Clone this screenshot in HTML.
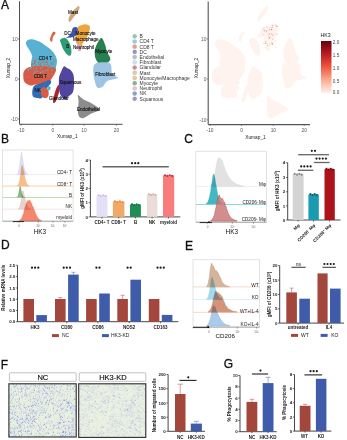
<!DOCTYPE html>
<html><head><meta charset="utf-8"><style>html,body{margin:0;padding:0;background:#fff;}svg{display:block;}</style></head>
<body>
<svg width="347" height="440" viewBox="0 0 347 440" font-family="Liberation Sans, sans-serif">
<rect x="0" y="0" width="347" height="440" fill="#ffffff" />
<text x="1.1" y="8.9" font-size="12" fill="#111" text-anchor="start" font-weight="normal" stroke="#111" stroke-width="0.3">A</text>
<path d="M26.3,41.8C26.7,40.9 27.6,40.2 28.5,39.8C29.4,39.4 30.1,39 32,39.3C33.9,39.6 37.5,40.7 39.8,41.8C42.1,42.9 44.1,44.7 46,46C47.9,47.3 49.5,48.4 51,49.8C52.5,51.2 53.8,52.8 54.8,54.5C55.8,56.2 56.6,58.3 56.9,60.2C57.1,62.1 56.7,64.3 56.3,66C55.9,67.7 56,69.6 54.6,70.6C53.2,71.6 50.4,71.9 48,72C45.6,72.1 42.7,71.5 40,71C37.3,70.5 33.5,70 32,69C30.5,68 31.1,66.3 31,64.8C30.9,63.3 31.3,61.7 31.5,60.2C31.7,58.7 32.5,57.3 32.1,55.6C31.7,53.9 30.2,51.6 29.2,49.8C28.2,48 26.8,46.3 26.3,45C25.8,43.7 25.9,42.7 26.3,41.8Z" fill="#58B1D2" />
<path d="M24,71.3C24.8,69.9 25.7,68.4 28,67.5C30.3,66.6 34.7,66.1 38,66C41.3,65.9 45.1,66.5 48,67C50.9,67.5 54.3,68 55.5,69C56.7,70 55.8,71.2 55,73C54.2,74.8 52.3,77.7 51,79.5C49.7,81.3 48.4,82.8 47,84C45.6,85.2 44.2,86.5 42.4,86.6C40.6,86.7 38,84.7 36,84.5C34,84.3 32.4,85.9 30.5,85.5C28.6,85.1 25.7,83.6 24.5,82C23.3,80.4 23.4,77.8 23.3,76C23.2,74.2 23.2,72.7 24,71.3Z" fill="#D85C45" />
<path d="M49.8,80C51,80.2 51.5,81.7 51,83C50.5,84.3 48.2,86.3 47,88C45.8,89.7 44.8,91.3 44,93C43.2,94.7 43.2,97.2 42,98C40.8,98.8 38.5,98.2 37,98C35.5,97.8 33.8,97.7 33,96.5C32.2,95.3 32.1,92.8 32.3,91C32.5,89.2 32.9,87.2 34,86C35.1,84.8 37.3,84.7 39,84C40.7,83.3 42.2,82.7 44,82C45.8,81.3 48.6,79.8 49.8,80Z" fill="#2F6DB4" />
<path d="M41,88.5C41.8,87.4 44.2,87.1 45.5,87.5C46.8,87.9 48.1,89.5 48.5,91C48.9,92.5 48.8,95.3 48,96.5C47.2,97.7 45.2,98.4 44,98C42.8,97.6 41.5,95.6 41,94C40.5,92.4 40.2,89.6 41,88.5Z" fill="#D85C45" />
<path d="M48,86.5C48.5,86 50.2,86.4 50.5,87C50.8,87.6 50.5,89.5 50,90C49.5,90.5 47.8,90.6 47.5,90C47.2,89.4 47.5,87 48,86.5Z" fill="#5BB5D6" />
<path d="M58.5,85C59.1,84.9 60,86 60,87.5C60,89 59.2,91.8 58.5,94C57.8,96.2 56.8,99.5 56,101C55.2,102.5 54.5,103 54,103C53.5,103 52.9,102.5 53,101C53.1,99.5 53.9,96.2 54.5,94C55.1,91.8 55.8,89.5 56.5,88C57.2,86.5 57.9,85.1 58.5,85Z" fill="#B0232A" />
<path d="M63.8,66.5C64.8,65.8 65.9,67.4 67,68C68.1,68.6 69.4,68.8 70.5,70C71.6,71.2 72.9,72.7 73.5,75C74.1,77.3 74.1,81.2 74,84C73.9,86.8 73.8,90 73,92C72.2,94 70.5,94.8 69,96C67.5,97.2 65.4,99.2 64,99C62.6,98.8 61.3,96.8 60.5,95C59.7,93.2 59.2,90.8 59,88C58.8,85.2 58.7,80.7 59,78C59.3,75.3 60.2,73.9 61,72C61.8,70.1 62.8,67.2 63.8,66.5Z" fill="#5046A0" />
<path d="M77.9,95C78.7,94.8 81.2,98 83.6,99.4C86,100.9 89.6,102 92.3,103.7C95,105.4 99.8,107.8 99.5,109.5C99.2,111.2 93.5,112.4 90.8,113.8C88.1,115.2 85.5,117.5 83.6,118C81.7,118.5 80.2,117.9 79.3,116.7C78.3,115.5 78,113.7 77.9,111C77.8,108.3 78.6,103.5 78.6,100.8C78.6,98.1 77.1,95.2 77.9,95Z" fill="#8C8C8C" />
<path d="M101.7,38C102.9,38.6 104.3,42.7 105.2,45C106.1,47.3 106,49.6 106.9,51.9C107.8,54.2 110.4,56.9 110.4,58.8C110.4,60.7 108.6,62.2 106.9,63.1C105.2,64 101.9,64.7 100,64C98.1,63.3 96.6,61.1 95.7,58.8C94.8,56.5 94.4,53.1 94.8,50.2C95.2,47.3 97.1,43.5 98.3,41.5C99.5,39.5 100.5,37.4 101.7,38Z" fill="#287F50" />
<path d="M96,63.2C98.3,62.1 104.3,62 106.8,62.3C109.3,62.6 110.1,63 111,65C111.9,67 111.2,72.5 112.3,74.6C113.4,76.6 117,76.6 117.7,77.3C118.4,78 118.2,77.9 116.4,78.6C114.6,79.3 109.1,80 106.8,81.4C104.5,82.8 104.3,85.8 102.7,86.8C101.1,87.8 98.7,88.6 97.3,87.5C95.9,86.4 95.2,83.1 94.5,80C93.8,76.9 93,71.8 93.2,69C93.5,66.2 93.7,64.3 96,63.2Z" fill="#9DC4E4" />
<path d="M78.5,6C79.1,6 79.8,6.8 79.5,8C79.2,9.2 78.1,11.3 77,13C75.9,14.7 74.2,16.5 73,18C71.8,19.5 70.8,21.4 70,21.8C69.2,22.2 68.6,21.5 68.5,20.5C68.4,19.5 68.8,17.6 69.5,16C70.2,14.4 71.9,12.3 73,11C74.1,9.7 75.1,8.8 76,8C76.9,7.2 77.9,6 78.5,6Z" fill="#CCA977" />
<path d="M79.2,26C80.5,25.3 83.6,24.2 85.3,24.2C87,24.2 88.9,25 89.6,26C90.3,27 90,28.4 89.6,30.3C89.2,32.2 88.2,35 87,37.2C85.8,39.4 83.7,41.4 82.7,43.3C81.7,45.2 81.6,47.7 81,48.4C80.4,49.1 80.1,48.8 79.2,47.6C78.3,46.5 76.4,43.7 75.8,41.5C75.2,39.3 75.5,36.8 75.8,34.6C76.1,32.4 76.9,29.9 77.5,28.5C78.1,27.1 77.9,26.7 79.2,26Z" fill="#EEA53B" />
<path d="M73,27.8C73.9,26.9 75.7,27 76.5,27.2C77.3,27.4 77.7,27.9 77.8,29C77.9,30.1 77.8,32.2 77.3,33.5C76.8,34.8 75.7,35.8 74.5,36.5C73.3,37.2 71.4,37.4 70,37.6C68.6,37.9 66.2,38.2 66,38C65.8,37.8 67.6,37.1 68.5,36.2C69.4,35.3 70.5,33.9 71.3,32.5C72,31.1 72.1,28.7 73,27.8Z" fill="#3D54A6" />
<path d="M60.2,39.8C60.9,38.9 63.8,37.4 65.4,38C67,38.6 68.7,41.3 69.7,43.3C70.7,45.3 71.2,48.2 71.4,50.2C71.6,52.2 71.3,54.7 70.6,55.4C69.9,56.1 68.4,55.7 67.1,54.5C65.8,53.3 63.8,50.3 62.8,48.4C61.8,46.5 61.4,44.7 61,43.3C60.6,41.9 59.5,40.7 60.2,39.8Z" fill="#2E9C74" />
<path d="M77.5,43.3C78,42.8 79.9,42.9 80.5,44C81.1,45.1 81.3,48.8 81,50C80.7,51.2 79.1,51.5 78.5,51C77.9,50.5 77.7,48.3 77.5,47C77.3,45.7 77,43.8 77.5,43.3Z" fill="#E7A3C5" />
<path d="M53,32C53.8,31.5 55.6,32.2 55.6,33C55.6,33.8 53.6,35.5 53,37C52.4,38.5 52.5,41.2 52,41.7C51.5,42.2 50.2,41 50,40C49.8,39 50.5,37.3 51,36C51.5,34.7 52.2,32.5 53,32Z" fill="#D8654A" />
<clipPath id="c4"><path d="M26.3,41.8C26.7,40.9 27.6,40.2 28.5,39.8C29.4,39.4 30.1,39 32,39.3C33.9,39.6 37.5,40.7 39.8,41.8C42.1,42.9 44.1,44.7 46,46C47.9,47.3 49.5,48.4 51,49.8C52.5,51.2 53.8,52.8 54.8,54.5C55.8,56.2 56.6,58.3 56.9,60.2C57.1,62.1 56.7,64.3 56.3,66C55.9,67.7 56,69.6 54.6,70.6C53.2,71.6 50.4,71.9 48,72C45.6,72.1 42.7,71.5 40,71C37.3,70.5 33.5,70 32,69C30.5,68 31.1,66.3 31,64.8C30.9,63.3 31.3,61.7 31.5,60.2C31.7,58.7 32.5,57.3 32.1,55.6C31.7,53.9 30.2,51.6 29.2,49.8C28.2,48 26.8,46.3 26.3,45C25.8,43.7 25.9,42.7 26.3,41.8Z"/></clipPath>
<clipPath id="c8"><path d="M24,71.3C24.8,69.9 25.7,68.4 28,67.5C30.3,66.6 34.7,66.1 38,66C41.3,65.9 45.1,66.5 48,67C50.9,67.5 54.3,68 55.5,69C56.7,70 55.8,71.2 55,73C54.2,74.8 52.3,77.7 51,79.5C49.7,81.3 48.4,82.8 47,84C45.6,85.2 44.2,86.5 42.4,86.6C40.6,86.7 38,84.7 36,84.5C34,84.3 32.4,85.9 30.5,85.5C28.6,85.1 25.7,83.6 24.5,82C23.3,80.4 23.4,77.8 23.3,76C23.2,74.2 23.2,72.7 24,71.3Z"/></clipPath>
<path clip-path="url(#c4)" d="M35.9,65.7h1v1h-1zM46.5,67h1v1h-1zM29.4,70.4h1v1h-1zM35.8,72.9h1v1h-1zM44.2,68.9h1v1h-1zM30.9,69.1h1v1h-1zM49.7,71.7h1v1h-1zM35.3,72.4h1v1h-1zM45.9,71.5h1v1h-1zM55.9,70.7h1v1h-1zM57,71.5h1v1h-1zM45.6,61.6h1v1h-1zM53.8,72.8h1v1h-1zM52.2,63.6h1v1h-1zM37.5,69.3h1v1h-1zM30.3,66.8h1v1h-1zM46.7,59.5h1v1h-1zM44.1,67.3h1v1h-1zM44.1,65.8h1v1h-1zM41,66.3h1v1h-1zM46.9,67.1h1v1h-1zM39.2,68.3h1v1h-1zM46.2,62.1h1v1h-1zM38.7,70.3h1v1h-1zM47.9,71.2h1v1h-1zM34.5,69.9h1v1h-1zM47.6,69.9h1v1h-1zM54.5,72.8h1v1h-1zM56.6,71.8h1v1h-1zM50.6,70.4h1v1h-1zM44.1,61.6h1v1h-1zM37.3,70h1v1h-1zM55,71.4h1v1h-1zM29.4,68.9h1v1h-1zM37.7,67.6h1v1h-1zM41,72h1v1h-1zM42.8,69.5h1v1h-1zM34,69.7h1v1h-1zM52.4,70.2h1v1h-1zM47.2,70.8h1v1h-1zM38.2,62h1v1h-1zM47.8,66.4h1v1h-1zM34.5,62.3h1v1h-1zM45.1,68.5h1v1h-1zM46.5,69.5h1v1h-1zM52.2,67h1v1h-1zM41.2,68.1h1v1h-1zM31.1,63.8h1v1h-1zM54.5,72h1v1h-1zM55,69.7h1v1h-1zM48.2,71.2h1v1h-1zM48.4,68.7h1v1h-1zM32,66.4h1v1h-1zM33.2,69.4h1v1h-1zM32.5,70.5h1v1h-1zM53.2,72.2h1v1h-1zM43.8,68.4h1v1h-1zM50.7,72h1v1h-1zM46.9,69.1h1v1h-1zM39.7,63.3h1v1h-1zM33.7,68.1h1v1h-1zM48.5,65.3h1v1h-1zM47.6,71.4h1v1h-1zM34.4,61.3h1v1h-1zM46,62h1v1h-1zM49,72.3h1v1h-1zM46,61.3h1v1h-1zM29.7,64.7h1v1h-1zM34,62.8h1v1h-1zM42.9,66.6h1v1h-1zM53.2,70.1h1v1h-1zM43,68.5h1v1h-1zM42.6,60.7h1v1h-1zM53.8,60.9h1v1h-1zM53.9,71.4h1v1h-1zM50.1,58.4h1v1h-1zM45.8,67.8h1v1h-1zM38.7,64h1v1h-1zM40.3,65.7h1v1h-1zM37,67.6h1v1h-1zM54.7,71.5h1v1h-1zM48,69.9h1v1h-1zM50.9,72.4h1v1h-1zM39.2,68.5h1v1h-1zM46.3,65.9h1v1h-1zM42.3,62h1v1h-1zM31,68.5h1v1h-1zM44.8,68.8h1v1h-1zM30.2,65.1h1v1h-1zM51.3,62.7h1v1h-1zM39.2,70.6h1v1h-1zM36.8,58.6h1v1h-1zM51.6,68.6h1v1h-1zM52.7,69h1v1h-1zM33.2,63.4h1v1h-1zM44.3,66.1h1v1h-1zM36.3,69.5h1v1h-1zM52.3,71.3h1v1h-1zM40.1,65.8h1v1h-1zM47.4,72.6h1v1h-1zM37.7,70.8h1v1h-1zM46.4,68.6h1v1h-1zM51.3,67.6h1v1h-1zM44.2,64.4h1v1h-1zM56.8,71.3h1v1h-1zM52,67h1v1h-1zM39.4,60.7h1v1h-1zM44.6,71.9h1v1h-1zM54.2,68.1h1v1h-1zM49.8,68.8h1v1h-1zM52.4,71.9h1v1h-1zM41.7,69.1h1v1h-1zM49.3,65.6h1v1h-1zM51,63.4h1v1h-1zM55.1,68.5h1v1h-1zM39.8,65.5h1v1h-1zM34.7,60.3h1v1h-1zM40.7,59.7h1v1h-1zM40.8,68.3h1v1h-1zM40.7,63.3h1v1h-1zM57,60.5h1v1h-1zM39,59h1v1h-1zM42.5,71.9h1v1h-1zM47.2,62.5h1v1h-1zM48.8,72.5h1v1h-1zM48,71.4h1v1h-1zM55.6,72h1v1h-1zM32.3,63.2h1v1h-1zM48.7,71.9h1v1h-1zM50.5,68.7h1v1h-1zM45,71.8h1v1h-1zM42.9,61.3h1v1h-1zM49.9,66.7h1v1h-1zM40.2,64.8h1v1h-1zM51,67.8h1v1h-1zM35.9,70.5h1v1h-1zM54.5,71h1v1h-1zM55,68.7h1v1h-1zM47.7,66.4h1v1h-1zM35.7,72.5h1v1h-1zM46.5,69.6h1v1h-1zM34.5,59.8h1v1h-1zM52.9,58.8h1v1h-1zM31.5,64.4h1v1h-1zM53.1,66.8h1v1h-1zM51.1,70.9h1v1h-1zM46.5,64.1h1v1h-1zM35,65.6h1v1h-1zM31.4,60.5h1v1h-1zM55.2,72.2h1v1h-1z" fill="#D0603F"/>
<path clip-path="url(#c8)" d="M30.8,67.3h1v1h-1zM45.4,70h1v1h-1zM33.8,71.8h1v1h-1zM35.7,68.3h1v1h-1zM26.3,67.8h1v1h-1zM39.9,68.3h1v1h-1zM26.9,68.6h1v1h-1zM37.2,70.7h1v1h-1zM40.2,67.3h1v1h-1zM32.8,66.6h1v1h-1zM47,69.5h1v1h-1zM47.6,73.7h1v1h-1zM30.4,66.2h1v1h-1zM41.7,71.8h1v1h-1zM30.4,68.6h1v1h-1zM51.8,73.7h1v1h-1zM34.2,73.3h1v1h-1zM41.9,66.4h1v1h-1zM40.3,72.8h1v1h-1zM43.4,71.2h1v1h-1zM34.3,71.5h1v1h-1zM28.1,69.2h1v1h-1zM27.8,69.7h1v1h-1zM33,73.6h1v1h-1zM43.5,75.1h1v1h-1zM27.4,76.6h1v1h-1zM35.9,67.5h1v1h-1zM51.7,69.9h1v1h-1zM29.8,67.8h1v1h-1zM49.8,67.1h1v1h-1zM40,72.2h1v1h-1zM47.7,68.8h1v1h-1zM32.9,68.8h1v1h-1zM29,66.2h1v1h-1zM39.7,76.7h1v1h-1zM40,72.2h1v1h-1zM41.6,70.5h1v1h-1zM35.7,70.5h1v1h-1zM51.4,69.8h1v1h-1zM37.5,74.6h1v1h-1z" fill="#5BB5D6"/>
<line x1="19.5" y1="1.2" x2="19.5" y2="124.3" stroke="#3a3a3a" stroke-width="0.9"/>
<line x1="19.5" y1="124.3" x2="122.6" y2="124.3" stroke="#3a3a3a" stroke-width="0.9"/>
<line x1="18" y1="39" x2="19.5" y2="39" stroke="#3a3a3a" stroke-width="0.6"/>
<text x="17.6" y="40.7" font-size="4.8" fill="#555" text-anchor="end" font-weight="normal" >10</text>
<line x1="18" y1="79" x2="19.5" y2="79" stroke="#3a3a3a" stroke-width="0.6"/>
<text x="17.6" y="80.7" font-size="4.8" fill="#555" text-anchor="end" font-weight="normal" >0</text>
<line x1="18" y1="119" x2="19.5" y2="119" stroke="#3a3a3a" stroke-width="0.6"/>
<text x="17.6" y="120.7" font-size="4.8" fill="#555" text-anchor="end" font-weight="normal" >-10</text>
<line x1="21" y1="124.3" x2="21" y2="125.8" stroke="#3a3a3a" stroke-width="0.6"/>
<text x="21" y="131.7" font-size="4.8" fill="#555" text-anchor="middle" font-weight="normal" >-10</text>
<line x1="52.8" y1="124.3" x2="52.8" y2="125.8" stroke="#3a3a3a" stroke-width="0.6"/>
<text x="52.8" y="131.7" font-size="4.8" fill="#555" text-anchor="middle" font-weight="normal" >0</text>
<line x1="84" y1="124.3" x2="84" y2="125.8" stroke="#3a3a3a" stroke-width="0.6"/>
<text x="84" y="131.7" font-size="4.8" fill="#555" text-anchor="middle" font-weight="normal" >10</text>
<line x1="116.4" y1="124.3" x2="116.4" y2="125.8" stroke="#3a3a3a" stroke-width="0.6"/>
<text x="116.4" y="131.7" font-size="4.8" fill="#555" text-anchor="middle" font-weight="normal" >20</text>
<text x="67.3" y="138.2" font-size="4.8" fill="#222" text-anchor="middle" font-weight="normal" >Xumap_1</text>
<text transform="translate(8,68) rotate(-90)" x="0" y="1.7" font-size="4.8" fill="#222" text-anchor="middle" font-weight="normal">Xumap_2</text>
<text x="73" y="14.4" font-size="4.6" fill="#111" text-anchor="middle" font-weight="normal" stroke="#111" stroke-width="0.12">Mast</text>
<text x="64.2" y="34.5" font-size="4.6" fill="#111" text-anchor="start" font-weight="normal" stroke="#111" stroke-width="0.12">DC</text>
<text x="75.6" y="35.2" font-size="4.6" fill="#111" text-anchor="start" font-weight="normal" stroke="#111" stroke-width="0.12">Monocyte</text>
<text x="73" y="40.5" font-size="4.6" fill="#111" text-anchor="start" font-weight="normal" stroke="#111" stroke-width="0.12">Macrophage</text>
<text x="66.3" y="48.3" font-size="4.6" fill="#111" text-anchor="start" font-weight="normal" stroke="#111" stroke-width="0.12">B</text>
<text x="73" y="48.5" font-size="4.6" fill="#111" text-anchor="start" font-weight="normal" stroke="#111" stroke-width="0.12">Neutrophil</text>
<text x="95.2" y="53.1" font-size="4.6" fill="#111" text-anchor="start" font-weight="normal" stroke="#111" stroke-width="0.12">Myocyte</text>
<text x="38.8" y="59.7" font-size="4.6" fill="#111" text-anchor="start" font-weight="normal" stroke="#111" stroke-width="0.12">CD4 T</text>
<text x="33.7" y="77.7" font-size="4.6" fill="#111" text-anchor="start" font-weight="normal" stroke="#111" stroke-width="0.12">CD8 T</text>
<text x="95.2" y="76.3" font-size="4.6" fill="#111" text-anchor="start" font-weight="normal" stroke="#111" stroke-width="0.12">Fibroblast</text>
<text x="34.5" y="91.9" font-size="4.6" fill="#111" text-anchor="start" font-weight="normal" stroke="#111" stroke-width="0.12">NK</text>
<text x="59.4" y="84" font-size="4.6" fill="#111" text-anchor="start" font-weight="normal" stroke="#111" stroke-width="0.12">Squamous</text>
<text x="48.9" y="99.7" font-size="4.6" fill="#111" text-anchor="start" font-weight="normal" stroke="#111" stroke-width="0.12">Glandular</text>
<text x="77" y="111.2" font-size="4.6" fill="#111" text-anchor="start" font-weight="normal" stroke="#111" stroke-width="0.12">Endothelial</text>
<circle cx="134.7" cy="36.3" r="2.1" fill="#8FCBAF" stroke="#888" stroke-width="0.35" stroke-opacity="0.5"/>
<text x="139.6" y="38.1" font-size="4.95" fill="#333" text-anchor="start" font-weight="normal" >B</text>
<circle cx="134.7" cy="41.5" r="2.1" fill="#92CFE6" stroke="#888" stroke-width="0.35" stroke-opacity="0.5"/>
<text x="139.6" y="43.3" font-size="4.95" fill="#333" text-anchor="start" font-weight="normal" >CD4 T</text>
<circle cx="134.7" cy="46.7" r="2.1" fill="#EB9C8B" stroke="#888" stroke-width="0.35" stroke-opacity="0.5"/>
<text x="139.6" y="48.5" font-size="4.95" fill="#333" text-anchor="start" font-weight="normal" >CD8 T</text>
<circle cx="134.7" cy="51.9" r="2.1" fill="#8F95C9" stroke="#888" stroke-width="0.35" stroke-opacity="0.5"/>
<text x="139.6" y="53.7" font-size="4.95" fill="#333" text-anchor="start" font-weight="normal" >DC</text>
<circle cx="134.7" cy="57.1" r="2.1" fill="#BDBDBD" stroke="#888" stroke-width="0.35" stroke-opacity="0.5"/>
<text x="139.6" y="58.9" font-size="4.95" fill="#333" text-anchor="start" font-weight="normal" >Endothelial</text>
<circle cx="134.7" cy="62.3" r="2.1" fill="#CFE2F3" stroke="#888" stroke-width="0.35" stroke-opacity="0.5"/>
<text x="139.6" y="64.1" font-size="4.95" fill="#333" text-anchor="start" font-weight="normal" >Fibroblast</text>
<circle cx="134.7" cy="67.6" r="2.1" fill="#D48A8F" stroke="#888" stroke-width="0.35" stroke-opacity="0.5"/>
<text x="139.6" y="69.3" font-size="4.95" fill="#333" text-anchor="start" font-weight="normal" >Glandular</text>
<circle cx="134.7" cy="72.8" r="2.1" fill="#DCCDAE" stroke="#888" stroke-width="0.35" stroke-opacity="0.5"/>
<text x="139.6" y="74.6" font-size="4.95" fill="#333" text-anchor="start" font-weight="normal" >Mast</text>
<circle cx="134.7" cy="78" r="2.1" fill="#F3C78E" stroke="#888" stroke-width="0.35" stroke-opacity="0.5"/>
<text x="139.6" y="79.8" font-size="4.95" fill="#333" text-anchor="start" font-weight="normal" >Monocyte/Macrophage</text>
<circle cx="134.7" cy="83.2" r="2.1" fill="#82B898" stroke="#888" stroke-width="0.35" stroke-opacity="0.5"/>
<text x="139.6" y="85" font-size="4.95" fill="#333" text-anchor="start" font-weight="normal" >Myocyte</text>
<circle cx="134.7" cy="88.4" r="2.1" fill="#F0C2D8" stroke="#888" stroke-width="0.35" stroke-opacity="0.5"/>
<text x="139.6" y="90.2" font-size="4.95" fill="#333" text-anchor="start" font-weight="normal" >Neutrophil</text>
<circle cx="134.7" cy="93.6" r="2.1" fill="#80A3D2" stroke="#888" stroke-width="0.35" stroke-opacity="0.5"/>
<text x="139.6" y="95.4" font-size="4.95" fill="#333" text-anchor="start" font-weight="normal" >NK</text>
<circle cx="134.7" cy="98.8" r="2.1" fill="#9D97CA" stroke="#888" stroke-width="0.35" stroke-opacity="0.5"/>
<text x="139.6" y="100.6" font-size="4.95" fill="#333" text-anchor="start" font-weight="normal" >Squamous</text>
<g transform="translate(188.7,0)">
<path d="M26.3,41.8C26.7,40.9 27.6,40.2 28.5,39.8C29.4,39.4 30.1,39 32,39.3C33.9,39.6 37.5,40.7 39.8,41.8C42.1,42.9 44.1,44.7 46,46C47.9,47.3 49.5,48.4 51,49.8C52.5,51.2 53.8,52.8 54.8,54.5C55.8,56.2 56.6,58.3 56.9,60.2C57.1,62.1 56.7,64.3 56.3,66C55.9,67.7 56,69.6 54.6,70.6C53.2,71.6 50.4,71.9 48,72C45.6,72.1 42.7,71.5 40,71C37.3,70.5 33.5,70 32,69C30.5,68 31.1,66.3 31,64.8C30.9,63.3 31.3,61.7 31.5,60.2C31.7,58.7 32.5,57.3 32.1,55.6C31.7,53.9 30.2,51.6 29.2,49.8C28.2,48 26.8,46.3 26.3,45C25.8,43.7 25.9,42.7 26.3,41.8Z" fill="#FEF3EE" />
<path d="M24,71.3C24.8,69.9 25.7,68.4 28,67.5C30.3,66.6 34.7,66.1 38,66C41.3,65.9 45.1,66.5 48,67C50.9,67.5 54.3,68 55.5,69C56.7,70 55.8,71.2 55,73C54.2,74.8 52.3,77.7 51,79.5C49.7,81.3 48.4,82.8 47,84C45.6,85.2 44.2,86.5 42.4,86.6C40.6,86.7 38,84.7 36,84.5C34,84.3 32.4,85.9 30.5,85.5C28.6,85.1 25.7,83.6 24.5,82C23.3,80.4 23.4,77.8 23.3,76C23.2,74.2 23.2,72.7 24,71.3Z" fill="#FEF3EE" />
<path d="M49.8,80C51,80.2 51.5,81.7 51,83C50.5,84.3 48.2,86.3 47,88C45.8,89.7 44.8,91.3 44,93C43.2,94.7 43.2,97.2 42,98C40.8,98.8 38.5,98.2 37,98C35.5,97.8 33.8,97.7 33,96.5C32.2,95.3 32.1,92.8 32.3,91C32.5,89.2 32.9,87.2 34,86C35.1,84.8 37.3,84.7 39,84C40.7,83.3 42.2,82.7 44,82C45.8,81.3 48.6,79.8 49.8,80Z" fill="#FEF3EE" />
<path d="M41,88.5C41.8,87.4 44.2,87.1 45.5,87.5C46.8,87.9 48.1,89.5 48.5,91C48.9,92.5 48.8,95.3 48,96.5C47.2,97.7 45.2,98.4 44,98C42.8,97.6 41.5,95.6 41,94C40.5,92.4 40.2,89.6 41,88.5Z" fill="#FEF3EE" />
<path d="M48,86.5C48.5,86 50.2,86.4 50.5,87C50.8,87.6 50.5,89.5 50,90C49.5,90.5 47.8,90.6 47.5,90C47.2,89.4 47.5,87 48,86.5Z" fill="#FEF3EE" />
<path d="M58.5,85C59.1,84.9 60,86 60,87.5C60,89 59.2,91.8 58.5,94C57.8,96.2 56.8,99.5 56,101C55.2,102.5 54.5,103 54,103C53.5,103 52.9,102.5 53,101C53.1,99.5 53.9,96.2 54.5,94C55.1,91.8 55.8,89.5 56.5,88C57.2,86.5 57.9,85.1 58.5,85Z" fill="#FEF3EE" />
<path d="M63.8,66.5C64.8,65.8 65.9,67.4 67,68C68.1,68.6 69.4,68.8 70.5,70C71.6,71.2 72.9,72.7 73.5,75C74.1,77.3 74.1,81.2 74,84C73.9,86.8 73.8,90 73,92C72.2,94 70.5,94.8 69,96C67.5,97.2 65.4,99.2 64,99C62.6,98.8 61.3,96.8 60.5,95C59.7,93.2 59.2,90.8 59,88C58.8,85.2 58.7,80.7 59,78C59.3,75.3 60.2,73.9 61,72C61.8,70.1 62.8,67.2 63.8,66.5Z" fill="#FEF3EE" />
<path d="M77.9,95C78.7,94.8 81.2,98 83.6,99.4C86,100.9 89.6,102 92.3,103.7C95,105.4 99.8,107.8 99.5,109.5C99.2,111.2 93.5,112.4 90.8,113.8C88.1,115.2 85.5,117.5 83.6,118C81.7,118.5 80.2,117.9 79.3,116.7C78.3,115.5 78,113.7 77.9,111C77.8,108.3 78.6,103.5 78.6,100.8C78.6,98.1 77.1,95.2 77.9,95Z" fill="#FEF3EE" />
<path d="M101.7,38C102.9,38.6 104.3,42.7 105.2,45C106.1,47.3 106,49.6 106.9,51.9C107.8,54.2 110.4,56.9 110.4,58.8C110.4,60.7 108.6,62.2 106.9,63.1C105.2,64 101.9,64.7 100,64C98.1,63.3 96.6,61.1 95.7,58.8C94.8,56.5 94.4,53.1 94.8,50.2C95.2,47.3 97.1,43.5 98.3,41.5C99.5,39.5 100.5,37.4 101.7,38Z" fill="#FEF3EE" />
<path d="M96,63.2C98.3,62.1 104.3,62 106.8,62.3C109.3,62.6 110.1,63 111,65C111.9,67 111.2,72.5 112.3,74.6C113.4,76.6 117,76.6 117.7,77.3C118.4,78 118.2,77.9 116.4,78.6C114.6,79.3 109.1,80 106.8,81.4C104.5,82.8 104.3,85.8 102.7,86.8C101.1,87.8 98.7,88.6 97.3,87.5C95.9,86.4 95.2,83.1 94.5,80C93.8,76.9 93,71.8 93.2,69C93.5,66.2 93.7,64.3 96,63.2Z" fill="#FEF3EE" />
<path d="M78.5,6C79.1,6 79.8,6.8 79.5,8C79.2,9.2 78.1,11.3 77,13C75.9,14.7 74.2,16.5 73,18C71.8,19.5 70.8,21.4 70,21.8C69.2,22.2 68.6,21.5 68.5,20.5C68.4,19.5 68.8,17.6 69.5,16C70.2,14.4 71.9,12.3 73,11C74.1,9.7 75.1,8.8 76,8C76.9,7.2 77.9,6 78.5,6Z" fill="#FEF3EE" />
<path d="M79.2,26C80.5,25.3 83.6,24.2 85.3,24.2C87,24.2 88.9,25 89.6,26C90.3,27 90,28.4 89.6,30.3C89.2,32.2 88.2,35 87,37.2C85.8,39.4 83.7,41.4 82.7,43.3C81.7,45.2 81.6,47.7 81,48.4C80.4,49.1 80.1,48.8 79.2,47.6C78.3,46.5 76.4,43.7 75.8,41.5C75.2,39.3 75.5,36.8 75.8,34.6C76.1,32.4 76.9,29.9 77.5,28.5C78.1,27.1 77.9,26.7 79.2,26Z" fill="#FEF3EE" />
<path d="M73,27.8C73.9,26.9 75.7,27 76.5,27.2C77.3,27.4 77.7,27.9 77.8,29C77.9,30.1 77.8,32.2 77.3,33.5C76.8,34.8 75.7,35.8 74.5,36.5C73.3,37.2 71.4,37.4 70,37.6C68.6,37.9 66.2,38.2 66,38C65.8,37.8 67.6,37.1 68.5,36.2C69.4,35.3 70.5,33.9 71.3,32.5C72,31.1 72.1,28.7 73,27.8Z" fill="#FEF3EE" />
<path d="M60.2,39.8C60.9,38.9 63.8,37.4 65.4,38C67,38.6 68.7,41.3 69.7,43.3C70.7,45.3 71.2,48.2 71.4,50.2C71.6,52.2 71.3,54.7 70.6,55.4C69.9,56.1 68.4,55.7 67.1,54.5C65.8,53.3 63.8,50.3 62.8,48.4C61.8,46.5 61.4,44.7 61,43.3C60.6,41.9 59.5,40.7 60.2,39.8Z" fill="#FEF3EE" />
<path d="M77.5,43.3C78,42.8 79.9,42.9 80.5,44C81.1,45.1 81.3,48.8 81,50C80.7,51.2 79.1,51.5 78.5,51C77.9,50.5 77.7,48.3 77.5,47C77.3,45.7 77,43.8 77.5,43.3Z" fill="#FEF3EE" />
<path d="M53,32C53.8,31.5 55.6,32.2 55.6,33C55.6,33.8 53.6,35.5 53,37C52.4,38.5 52.5,41.2 52,41.7C51.5,42.2 50.2,41 50,40C49.8,39 50.5,37.3 51,36C51.5,34.7 52.2,32.5 53,32Z" fill="#FEF3EE" />
</g>
<circle cx="269.8" cy="37.9" r="0.6" fill="#B8A8B8"/>
<circle cx="270" cy="36.7" r="0.6" fill="#F8D5C5"/>
<circle cx="265.8" cy="43.5" r="0.6" fill="#EF7C5E"/>
<circle cx="272.4" cy="43.2" r="0.6" fill="#F9C9B4"/>
<circle cx="269.7" cy="28.3" r="0.6" fill="#F8D5C5"/>
<circle cx="275.1" cy="40.9" r="0.6" fill="#F9C9B4"/>
<circle cx="271.9" cy="34.1" r="0.6" fill="#EF7C5E"/>
<circle cx="272.8" cy="39.2" r="0.6" fill="#F7B59C"/>
<circle cx="272.3" cy="44.1" r="0.6" fill="#F9C9B4"/>
<circle cx="263.9" cy="29.4" r="0.6" fill="#F7B59C"/>
<circle cx="272" cy="42.9" r="0.6" fill="#F4A084"/>
<circle cx="269.6" cy="44.4" r="0.6" fill="#F8D5C5"/>
<circle cx="266.5" cy="31.8" r="0.6" fill="#F9C9B4"/>
<circle cx="272.9" cy="35.5" r="0.6" fill="#F4A084"/>
<circle cx="269.1" cy="37.7" r="0.6" fill="#B8A8B8"/>
<circle cx="264.2" cy="30.8" r="0.6" fill="#B8A8B8"/>
<circle cx="266.4" cy="31.6" r="0.6" fill="#F9C9B4"/>
<circle cx="271.4" cy="27.5" r="0.6" fill="#F9C9B4"/>
<circle cx="275.7" cy="33.9" r="0.6" fill="#F9C9B4"/>
<circle cx="275.7" cy="25" r="0.6" fill="#F7B59C"/>
<circle cx="276.9" cy="26.2" r="0.6" fill="#EF7C5E"/>
<circle cx="277.7" cy="34.1" r="0.6" fill="#F9C9B4"/>
<circle cx="271.5" cy="29.6" r="0.6" fill="#E8604A"/>
<circle cx="267" cy="27" r="0.6" fill="#F4A084"/>
<circle cx="263.2" cy="34.4" r="0.6" fill="#F9C9B4"/>
<circle cx="265" cy="41.3" r="0.6" fill="#F9C9B4"/>
<circle cx="263.9" cy="43.3" r="0.6" fill="#F7B59C"/>
<circle cx="273.2" cy="29.3" r="0.6" fill="#F8D5C5"/>
<circle cx="265.9" cy="41.8" r="0.6" fill="#F7B59C"/>
<circle cx="269.3" cy="33.8" r="0.6" fill="#EF7C5E"/>
<circle cx="269.3" cy="29.9" r="0.6" fill="#F4A084"/>
<circle cx="276" cy="47.4" r="0.6" fill="#F8D5C5"/>
<circle cx="267.6" cy="45.4" r="0.6" fill="#F7B59C"/>
<circle cx="265.8" cy="47.9" r="0.6" fill="#F8D5C5"/>
<circle cx="272.6" cy="27.3" r="0.6" fill="#F7B59C"/>
<circle cx="266.2" cy="30.9" r="0.6" fill="#B8A8B8"/>
<circle cx="272.2" cy="44.1" r="0.6" fill="#EF7C5E"/>
<circle cx="264.1" cy="27.1" r="0.6" fill="#F8D5C5"/>
<circle cx="272.5" cy="25.4" r="0.6" fill="#F4A084"/>
<circle cx="268.6" cy="35.4" r="0.6" fill="#F8D5C5"/>
<line x1="208.2" y1="1.4" x2="208.2" y2="124.6" stroke="#555" stroke-width="1.1"/>
<line x1="208.2" y1="124.6" x2="310" y2="124.6" stroke="#555" stroke-width="1.1"/>
<line x1="206.7" y1="38.9" x2="208.2" y2="38.9" stroke="#555" stroke-width="0.6"/>
<text x="206.4" y="40.6" font-size="4.8" fill="#555" text-anchor="end" font-weight="normal" >10</text>
<line x1="206.7" y1="79" x2="208.2" y2="79" stroke="#555" stroke-width="0.6"/>
<text x="206.4" y="80.7" font-size="4.8" fill="#555" text-anchor="end" font-weight="normal" >0</text>
<line x1="206.7" y1="119.8" x2="208.2" y2="119.8" stroke="#555" stroke-width="0.6"/>
<text x="206.4" y="121.5" font-size="4.8" fill="#555" text-anchor="end" font-weight="normal" >-10</text>
<line x1="210" y1="124.6" x2="210" y2="126" stroke="#555" stroke-width="0.6"/>
<text x="210" y="132.2" font-size="4.8" fill="#555" text-anchor="middle" font-weight="normal" >-10</text>
<line x1="241.5" y1="124.6" x2="241.5" y2="126" stroke="#555" stroke-width="0.6"/>
<text x="241.5" y="132.2" font-size="4.8" fill="#555" text-anchor="middle" font-weight="normal" >0</text>
<line x1="273.3" y1="124.6" x2="273.3" y2="126" stroke="#555" stroke-width="0.6"/>
<text x="273.3" y="132.2" font-size="4.8" fill="#555" text-anchor="middle" font-weight="normal" >10</text>
<line x1="304.2" y1="124.6" x2="304.2" y2="126" stroke="#555" stroke-width="0.6"/>
<text x="304.2" y="132.2" font-size="4.8" fill="#555" text-anchor="middle" font-weight="normal" >20</text>
<text x="255.5" y="138.9" font-size="4.8" fill="#222" text-anchor="middle" font-weight="normal" >Xumap_1</text>
<text transform="translate(196.7,68) rotate(-90)" x="0" y="1.7" font-size="4.8" fill="#222" text-anchor="middle" font-weight="normal">Xumap_2</text>
<defs><linearGradient id="hk" x1="0" y1="1" x2="0" y2="0"><stop offset="0" stop-color="#FFF1EB"/><stop offset="0.25" stop-color="#FCAB92"/><stop offset="0.5" stop-color="#F0563F"/><stop offset="0.75" stop-color="#BC1A20"/><stop offset="1" stop-color="#67000D"/></linearGradient></defs>
<rect x="321" y="41" width="10.5" height="52" fill="url(#hk)" />
<text x="320.5" y="37.4" font-size="5.2" fill="#222" text-anchor="start" font-weight="normal" >HK3</text>
<text x="332.8" y="44.2" font-size="4.6" fill="#444" text-anchor="start" font-weight="normal" >2.0</text>
<text x="332.8" y="56.9" font-size="4.6" fill="#444" text-anchor="start" font-weight="normal" >1.5</text>
<text x="332.8" y="69.7" font-size="4.6" fill="#444" text-anchor="start" font-weight="normal" >1.0</text>
<text x="332.8" y="82.7" font-size="4.6" fill="#444" text-anchor="start" font-weight="normal" >0.5</text>
<text x="332.8" y="94.3" font-size="4.6" fill="#444" text-anchor="start" font-weight="normal" >0.0</text>
<text x="1" y="143" font-size="12" fill="#111" text-anchor="start" font-weight="normal" stroke="#111" stroke-width="0.3">B</text>
<rect x="2.5" y="150" width="70.6" height="71.2" fill="none" stroke="#D0D0D0" stroke-width="0.6"/>
<path d="M16.8,174.6 L16.8,174.2 L17,174 L17.2,173.8 L17.5,173.6 L17.7,173.4 L17.9,172.9 L18.1,172.4 L18.4,172 L18.6,171.2 L18.8,170.4 L19,169.4 L19.3,168.1 L19.5,167.4 L19.7,166 L19.9,163.5 L20.1,162.2 L20.4,159.7 L20.6,159.2 L20.8,156.5 L21,154.1 L21.3,153.9 L21.5,151.7 L21.7,152.7 L21.9,155.9 L22.1,157.2 L22.4,157.5 L22.6,158.2 L22.8,160.6 L23,162.3 L23.3,163.3 L23.5,165.1 L23.7,166 L23.9,166.8 L24.2,167.8 L24.4,168.9 L24.6,169.6 L24.8,170.3 L25,170.8 L25.3,171.4 L25.5,171.9 L25.7,172 L25.9,172.5 L26.2,172.7 L26.4,173 L26.6,173.1 L26.8,173.2 L27.1,173.5 L27.3,173.5 L27.5,173.6 L27.5,174.6 Z" fill="#DCDEF6" fill-opacity="1" stroke="#CDD0F0" stroke-width="0.5" style="mix-blend-mode:multiply"/>
<line x1="2.5" y1="174.6" x2="73.1" y2="174.6" stroke="#DADCF2" stroke-width="0.5"/>
<path d="M17.2,186.1 L17.2,185.7 L17.4,185.6 L17.7,185.4 L17.9,185.1 L18.2,184.8 L18.4,184.4 L18.6,184.1 L18.9,183.6 L19.1,182.7 L19.4,181.9 L19.6,181 L19.9,180.1 L20.1,178.7 L20.3,177.3 L20.6,175.8 L20.8,174.7 L21.1,172.7 L21.3,171.1 L21.6,168.9 L21.8,166.9 L22,165.7 L22.3,165.8 L22.5,166.3 L22.8,167.4 L23,168.8 L23.2,170 L23.5,170.5 L23.7,172 L24,173.3 L24.2,174 L24.4,175.7 L24.7,176.9 L24.9,178.3 L25.2,179.4 L25.4,180.1 L25.7,181.1 L25.9,181.7 L26.1,182.2 L26.4,182.9 L26.6,183.5 L26.9,183.8 L27.1,184.2 L27.4,184.6 L27.6,184.8 L27.8,185.1 L28.1,185.3 L28.3,185.5 L28.6,185.6 L28.8,185.7 L28.8,186.1 Z" fill="#F8BE8A" fill-opacity="1" stroke="#F2A868" stroke-width="0.5" style="mix-blend-mode:multiply"/>
<line x1="2.5" y1="186.1" x2="73.1" y2="186.1" stroke="#F6C498" stroke-width="0.8"/>
<path d="M16.8,197.5 L16.8,197.3 L16.9,197.2 L17.1,197.1 L17.2,197 L17.4,196.9 L17.6,196.7 L17.7,196.5 L17.9,196.3 L18,196 L18.2,195.7 L18.3,195.3 L18.4,194.7 L18.6,194.3 L18.8,193.7 L18.9,192.7 L19.1,192.2 L19.2,191.2 L19.4,190.6 L19.5,189.6 L19.6,189.2 L19.8,188 L19.9,187.1 L20.1,187 L20.2,186.7 L20.4,187.1 L20.6,188.2 L20.7,188.2 L20.9,189 L21,190 L21.1,190.9 L21.3,191.1 L21.4,192 L21.6,192.6 L21.8,193.2 L21.9,193.8 L22.1,194.3 L22.2,194.9 L22.4,195.2 L22.5,195.7 L22.6,195.9 L22.8,196.2 L22.9,196.5 L23.1,196.7 L23.2,196.8 L23.4,196.9 L23.6,197.1 L23.7,197.2 L23.9,197.2 L24,197.3 L24,197.5 Z" fill="#86B886" fill-opacity="1" stroke="#4E9A50" stroke-width="0.5" style="mix-blend-mode:multiply"/>
<line x1="2.5" y1="197.5" x2="73.1" y2="197.5" stroke="#AED4A0" stroke-width="0.8"/>
<path d="M18.2,209.2 L18.2,208.8 L18.4,208.7 L18.7,208.5 L18.9,208.3 L19.2,208.1 L19.4,207.7 L19.7,207.3 L19.9,206.8 L20.2,206 L20.4,204.8 L20.7,203.9 L20.9,202.7 L21.1,202 L21.4,200.2 L21.6,199 L21.9,197.7 L22.1,196.3 L22.4,194.6 L22.6,191.7 L22.9,191 L23.1,190.9 L23.4,191.5 L23.6,193.6 L23.9,194.2 L24.1,194.6 L24.3,195.4 L24.6,196.4 L24.8,197.5 L25.1,199.7 L25.3,200.1 L25.6,201 L25.8,202.1 L26.1,203.3 L26.3,203.8 L26.6,204.8 L26.8,204.9 L27,205.6 L27.3,206.2 L27.5,206.8 L27.8,207 L28,207.4 L28.3,207.7 L28.5,207.9 L28.8,208.2 L29,208.4 L29.3,208.5 L29.5,208.7 L29.8,208.8 L30,208.8 L30,209.2 Z" fill="#E6D3CC" fill-opacity="1" stroke="#D8B8B0" stroke-width="0.5" style="mix-blend-mode:multiply"/>
<line x1="2.5" y1="209.2" x2="73.1" y2="209.2" stroke="#EFD6CE" stroke-width="0.6"/>
<path d="M19.3,221 L19.3,220.6 L19.8,220.4 L20.2,220.1 L20.7,219.6 L21.2,219 L21.6,218.3 L22.1,217.4 L22.5,216.3 L23,214.9 L23.5,213.9 L23.9,212.1 L24.4,210 L24.9,208.4 L25.3,206.4 L25.8,205.7 L26.2,203.7 L26.7,202.8 L27.2,201.4 L27.6,200.6 L28.1,201.2 L28.6,200.8 L29,200.7 L29.5,199.9 L29.9,200.5 L30.4,202 L30.9,201.7 L31.3,203.4 L31.8,203.7 L32.2,205.4 L32.7,206.7 L33.2,206.9 L33.6,208.8 L34.1,210 L34.6,210.6 L35,211.9 L35.5,213.5 L36,214.2 L36.4,215.4 L36.9,216.2 L37.3,217.2 L37.8,217.7 L38.3,218.4 L38.7,218.8 L39.2,219.3 L39.6,219.7 L40.1,220 L40.6,220.2 L41,220.4 L41.5,220.6 L41.5,221 Z" fill="#F6876F" fill-opacity="1" stroke="#F07058" stroke-width="0.5" style="mix-blend-mode:multiply"/>
<line x1="2.5" y1="221.2" x2="73.1" y2="221.2" stroke="#777" stroke-width="0.6"/>
<line x1="13" y1="221.5" x2="24" y2="221.5" stroke="#222" stroke-width="0.9"/>
<line x1="13" y1="221.2" x2="13" y2="222.4" stroke="#333" stroke-width="0.4"/>
<line x1="14.6" y1="221.2" x2="14.6" y2="222.4" stroke="#333" stroke-width="0.4"/>
<line x1="16.2" y1="221.2" x2="16.2" y2="222.4" stroke="#333" stroke-width="0.4"/>
<line x1="17.8" y1="221.2" x2="17.8" y2="222.4" stroke="#333" stroke-width="0.4"/>
<line x1="19.4" y1="221.2" x2="19.4" y2="222.4" stroke="#333" stroke-width="0.4"/>
<line x1="21" y1="221.2" x2="21" y2="222.4" stroke="#333" stroke-width="0.4"/>
<line x1="22.6" y1="221.2" x2="22.6" y2="222.4" stroke="#333" stroke-width="0.4"/>
<line x1="19.2" y1="221.2" x2="19.2" y2="222.7" stroke="#444" stroke-width="0.5"/>
<line x1="38.3" y1="221.2" x2="38.3" y2="222.7" stroke="#444" stroke-width="0.5"/>
<line x1="52.9" y1="221.2" x2="52.9" y2="222.7" stroke="#444" stroke-width="0.5"/>
<line x1="65" y1="221.2" x2="65" y2="222.7" stroke="#444" stroke-width="0.5"/>
<text x="19.2" y="226.6" font-size="3" fill="#666" text-anchor="middle" font-weight="normal" >0</text>
<text x="38.3" y="226.6" font-size="3" fill="#666" text-anchor="middle" font-weight="normal" >10²</text>
<text x="52.9" y="226.6" font-size="3" fill="#666" text-anchor="middle" font-weight="normal" >10³</text>
<text x="65" y="226.6" font-size="3" fill="#666" text-anchor="middle" font-weight="normal" >10⁴</text>
<text x="72" y="174.2" font-size="4.6" fill="#222" text-anchor="end" font-weight="normal" >CD4<tspan font-size="3" dy="-1.5">+</tspan><tspan dy="1.5"> T</tspan></text>
<text x="72" y="185.8" font-size="4.6" fill="#222" text-anchor="end" font-weight="normal" >CD8<tspan font-size="3" dy="-1.5">+</tspan><tspan dy="1.5"> T</tspan></text>
<text x="72" y="197.4" font-size="4.6" fill="#222" text-anchor="end" font-weight="normal" >B</text>
<text x="72" y="207.6" font-size="4.6" fill="#222" text-anchor="end" font-weight="normal" >NK</text>
<text x="72" y="219.2" font-size="4.6" fill="#222" text-anchor="end" font-weight="normal" >myeloid</text>
<text x="39.9" y="233.5" font-size="6.4" fill="#111" text-anchor="middle" font-weight="normal" >HK3</text>
<line x1="90.4" y1="160" x2="90.4" y2="217" stroke="#333" stroke-width="0.9"/>
<line x1="90.4" y1="216.9" x2="180.3" y2="216.9" stroke="#333" stroke-width="0.9"/>
<line x1="88.6" y1="160" x2="90.4" y2="160" stroke="#333" stroke-width="0.7"/>
<text x="88" y="161.6" font-size="4.4" fill="#222" text-anchor="end" font-weight="bold" >4</text>
<line x1="88.6" y1="174.2" x2="90.4" y2="174.2" stroke="#333" stroke-width="0.7"/>
<text x="88" y="175.8" font-size="4.4" fill="#222" text-anchor="end" font-weight="bold" >3</text>
<line x1="88.6" y1="188.5" x2="90.4" y2="188.5" stroke="#333" stroke-width="0.7"/>
<text x="88" y="190.1" font-size="4.4" fill="#222" text-anchor="end" font-weight="bold" >2</text>
<line x1="88.6" y1="202.7" x2="90.4" y2="202.7" stroke="#333" stroke-width="0.7"/>
<text x="88" y="204.3" font-size="4.4" fill="#222" text-anchor="end" font-weight="bold" >1</text>
<line x1="88.6" y1="216.9" x2="90.4" y2="216.9" stroke="#333" stroke-width="0.7"/>
<text x="88" y="218.5" font-size="4.4" fill="#222" text-anchor="end" font-weight="bold" >0</text>
<text transform="translate(82,188.5) rotate(-90)" x="0" y="1.7" font-size="4.6" fill="#222" text-anchor="middle" font-weight="bold">gMFI of HK3 (x10<tspan font-size="3" dy="-1.5">3</tspan><tspan dy="1.5">)</tspan></text>
<rect x="96.5" y="195.5" width="11" height="21.4" fill="#E4E1F6" />
<circle cx="98.5" cy="195.3" r="1.05" fill="#D7B5E0"/>
<circle cx="100.8" cy="196" r="1.05" fill="#D7B5E0"/>
<circle cx="103.2" cy="195.3" r="1.05" fill="#D7B5E0"/>
<circle cx="105.5" cy="196" r="1.05" fill="#D7B5E0"/>
<line x1="102" y1="216.9" x2="102" y2="218.5" stroke="#333" stroke-width="0.7"/>
<rect x="112.9" y="201.5" width="11.5" height="15.4" fill="#F2A866" />
<circle cx="114.9" cy="201.3" r="1.05" fill="#E8873A"/>
<circle cx="117.4" cy="202" r="1.05" fill="#E8873A"/>
<circle cx="119.9" cy="201.3" r="1.05" fill="#E8873A"/>
<circle cx="122.4" cy="202" r="1.05" fill="#E8873A"/>
<line x1="118.7" y1="216.9" x2="118.7" y2="218.5" stroke="#333" stroke-width="0.7"/>
<rect x="130" y="204.5" width="10.9" height="12.4" fill="#1E8F52" />
<circle cx="132" cy="204.3" r="1.05" fill="#157040"/>
<circle cx="134.3" cy="205" r="1.05" fill="#157040"/>
<circle cx="136.6" cy="204.3" r="1.05" fill="#157040"/>
<circle cx="138.9" cy="205" r="1.05" fill="#157040"/>
<line x1="135.4" y1="216.9" x2="135.4" y2="218.5" stroke="#333" stroke-width="0.7"/>
<rect x="146.9" y="194.5" width="10.4" height="22.4" fill="#EBDBD9" />
<circle cx="148.9" cy="194.3" r="1.05" fill="#D9A9A9"/>
<circle cx="151" cy="195" r="1.05" fill="#D9A9A9"/>
<circle cx="153.2" cy="194.3" r="1.05" fill="#D9A9A9"/>
<circle cx="155.3" cy="195" r="1.05" fill="#D9A9A9"/>
<line x1="152.1" y1="216.9" x2="152.1" y2="218.5" stroke="#333" stroke-width="0.7"/>
<rect x="163" y="175.4" width="11.2" height="41.5" fill="#F87C7C" />
<circle cx="165" cy="175.2" r="1.05" fill="#C0303A"/>
<circle cx="167.4" cy="175.9" r="1.05" fill="#C0303A"/>
<circle cx="169.8" cy="175.2" r="1.05" fill="#C0303A"/>
<circle cx="172.2" cy="175.9" r="1.05" fill="#C0303A"/>
<line x1="168.6" y1="216.9" x2="168.6" y2="218.5" stroke="#333" stroke-width="0.7"/>
<line x1="102.5" y1="166.8" x2="168.8" y2="166.8" stroke="#666" stroke-width="1.6"/>
<circle cx="132" cy="163.2" r="1.1" fill="#1a1a1a"/>
<circle cx="135.2" cy="163.2" r="1.1" fill="#1a1a1a"/>
<circle cx="138.3" cy="163.2" r="1.1" fill="#1a1a1a"/>
<text x="102" y="224.1" font-size="4.5" fill="#222" text-anchor="middle" font-weight="bold" >CD4<tspan font-size="3" dy="-1.5">+</tspan><tspan dy="1.5"> T</tspan></text>
<text x="118.6" y="224.1" font-size="4.5" fill="#222" text-anchor="middle" font-weight="bold" >CD8<tspan font-size="3" dy="-1.5">+</tspan><tspan dy="1.5"> T</tspan></text>
<text x="135.5" y="224.1" font-size="4.5" fill="#222" text-anchor="middle" font-weight="bold" >B</text>
<text x="152" y="224.1" font-size="4.5" fill="#222" text-anchor="middle" font-weight="bold" >NK</text>
<text x="168.6" y="224.1" font-size="4.5" fill="#222" text-anchor="middle" font-weight="bold" >myeloid</text>
<text x="184.3" y="143.1" font-size="12" fill="#111" text-anchor="start" font-weight="normal" stroke="#111" stroke-width="0.3">C</text>
<rect x="195.9" y="151.2" width="70.7" height="71" fill="none" stroke="#D0D0D0" stroke-width="0.6"/>
<path d="M211,186.6 L211,186 L211.7,185.4 L212.4,184.3 L213.1,182.6 L213.8,180.3 L214.4,177.3 L215.1,173.9 L215.8,168.7 L216.5,165 L217.2,161 L217.9,159.7 L218.6,157.5 L219.2,159 L219.9,158 L220.6,158.6 L221.3,159.9 L222,160.5 L222.7,161.7 L223.4,165 L224.1,166.5 L224.8,168.4 L225.4,171.2 L226.1,171.9 L226.8,173.4 L227.5,174.5 L228.2,176.2 L228.9,177.4 L229.6,177.7 L230.2,178.6 L230.9,179.7 L231.6,180.7 L232.3,181.2 L233,181.6 L233.7,182.3 L234.4,182.6 L235.1,183.2 L235.8,183.7 L236.4,183.9 L237.1,184.3 L237.8,184.5 L238.5,184.7 L239.2,185 L239.9,185.2 L240.6,185.4 L241.2,185.6 L241.9,185.7 L242.6,185.8 L243.3,185.9 L244,186 L244,186.6 Z" fill="#E2E2E2" fill-opacity="1" stroke="#D6D6D6" stroke-width="0.5" style="mix-blend-mode:multiply"/>
<line x1="195.9" y1="186.6" x2="266.6" y2="186.6" stroke="#E4E4E4" stroke-width="0.6"/>
<path d="M206,204.5 L206,203.9 L206.3,203.7 L206.7,203.4 L207,203.1 L207.3,202.7 L207.7,202.3 L208,201.6 L208.3,201 L208.7,200 L209,199 L209.3,198 L209.7,196.3 L210,195.1 L210.3,193.1 L210.7,191.5 L211,189.5 L211.3,186.9 L211.7,184 L212,183 L212.3,180.7 L212.7,177.9 L213,175.5 L213.3,175.1 L213.7,174.8 L214,173.9 L214.3,177 L214.7,176.7 L215,179.6 L215.3,181.8 L215.7,183.8 L216,185.5 L216.3,186.8 L216.7,189.6 L217,191.1 L217.3,192.8 L217.7,194.6 L218,196 L218.3,197.5 L218.7,198.6 L219,199.5 L219.3,200.2 L219.7,200.9 L220,201.6 L220.3,202 L220.7,202.4 L221,202.7 L221.3,202.8 L221.7,203 L222,203.2 L222,204.5 Z" fill="#44B8C2" fill-opacity="1" stroke="#2FA8B4" stroke-width="0.5" style="mix-blend-mode:multiply"/>
<line x1="195.9" y1="204.5" x2="266.6" y2="204.5" stroke="#86D2DA" stroke-width="0.9"/>
<path d="M210.5,221.2 L210.5,220.7 L211.1,220.4 L211.6,220 L212.2,219.5 L212.7,218.5 L213.3,217.7 L213.8,216.1 L214.4,214.8 L214.9,212.6 L215.5,209.4 L216,207.6 L216.6,204 L217.1,201.4 L217.7,198.7 L218.2,196.5 L218.8,196.2 L219.3,194.8 L219.9,197.1 L220.4,197.3 L221,198.5 L221.5,198.6 L222.1,198.9 L222.6,198.5 L223.2,200.3 L223.8,201.7 L224.3,202.4 L224.9,202.4 L225.4,205.6 L226,206.4 L226.5,208.5 L227.1,209.9 L227.6,211.9 L228.2,213 L228.7,214.3 L229.3,215.3 L229.8,216 L230.4,216.9 L230.9,217.7 L231.5,218.2 L232,218.4 L232.6,218.9 L233.1,219.3 L233.7,219.5 L234.2,219.8 L234.8,220.1 L235.3,220.3 L235.9,220.4 L236.4,220.6 L237,220.7 L237,221.2 Z" fill="#CB7474" fill-opacity="0.82" stroke="#B05858" stroke-width="0.5" />
<line x1="195.9" y1="222.2" x2="266.6" y2="222.2" stroke="#777" stroke-width="0.6"/>
<line x1="200" y1="222.5" x2="212" y2="222.5" stroke="#222" stroke-width="0.9"/>
<line x1="200" y1="222.2" x2="200" y2="223.4" stroke="#333" stroke-width="0.4"/>
<line x1="201.6" y1="222.2" x2="201.6" y2="223.4" stroke="#333" stroke-width="0.4"/>
<line x1="203.2" y1="222.2" x2="203.2" y2="223.4" stroke="#333" stroke-width="0.4"/>
<line x1="204.8" y1="222.2" x2="204.8" y2="223.4" stroke="#333" stroke-width="0.4"/>
<line x1="206.4" y1="222.2" x2="206.4" y2="223.4" stroke="#333" stroke-width="0.4"/>
<line x1="208" y1="222.2" x2="208" y2="223.4" stroke="#333" stroke-width="0.4"/>
<line x1="209.6" y1="222.2" x2="209.6" y2="223.4" stroke="#333" stroke-width="0.4"/>
<line x1="211.2" y1="222.2" x2="211.2" y2="223.4" stroke="#333" stroke-width="0.4"/>
<line x1="207.5" y1="222.2" x2="207.5" y2="223.7" stroke="#444" stroke-width="0.5"/>
<line x1="232.3" y1="222.2" x2="232.3" y2="223.7" stroke="#444" stroke-width="0.5"/>
<line x1="253.5" y1="222.2" x2="253.5" y2="223.7" stroke="#444" stroke-width="0.5"/>
<text x="207.5" y="227.6" font-size="3" fill="#666" text-anchor="middle" font-weight="normal" >0</text>
<text x="232.3" y="227.6" font-size="3" fill="#666" text-anchor="middle" font-weight="normal" >10²</text>
<text x="253.5" y="227.6" font-size="3" fill="#666" text-anchor="middle" font-weight="normal" >10³</text>
<rect x="208.2" y="221.4" width="1.6" height="1.6" fill="#111" />
<text x="265.9" y="186.3" font-size="4.6" fill="#222" text-anchor="end" font-weight="normal" >Mφ</text>
<text x="265.9" y="204.3" font-size="4.6" fill="#222" text-anchor="end" font-weight="normal" >CD206<tspan font-size="3" dy="-1.5">-</tspan><tspan dy="1.5"> Mφ</tspan></text>
<text x="265.9" y="221.1" font-size="4.6" fill="#222" text-anchor="end" font-weight="normal" >CD206<tspan font-size="3" dy="-1.5">+</tspan><tspan dy="1.5"> Mφ</tspan></text>
<text x="231.8" y="233.5" font-size="6.4" fill="#111" text-anchor="middle" font-weight="normal" >HK3</text>
<line x1="287.7" y1="162.7" x2="287.7" y2="220.1" stroke="#333" stroke-width="0.9"/>
<line x1="287.7" y1="220" x2="340.5" y2="220" stroke="#333" stroke-width="0.9"/>
<line x1="285.9" y1="162.7" x2="287.7" y2="162.7" stroke="#333" stroke-width="0.7"/>
<text x="285.3" y="164.3" font-size="4.4" fill="#222" text-anchor="end" font-weight="bold" >4</text>
<line x1="285.9" y1="177.5" x2="287.7" y2="177.5" stroke="#333" stroke-width="0.7"/>
<text x="285.3" y="179.1" font-size="4.4" fill="#222" text-anchor="end" font-weight="bold" >3</text>
<line x1="285.9" y1="191.8" x2="287.7" y2="191.8" stroke="#333" stroke-width="0.7"/>
<text x="285.3" y="193.4" font-size="4.4" fill="#222" text-anchor="end" font-weight="bold" >2</text>
<line x1="285.9" y1="205.9" x2="287.7" y2="205.9" stroke="#333" stroke-width="0.7"/>
<text x="285.3" y="207.5" font-size="4.4" fill="#222" text-anchor="end" font-weight="bold" >1</text>
<line x1="285.9" y1="220" x2="287.7" y2="220" stroke="#333" stroke-width="0.7"/>
<text x="285.3" y="221.6" font-size="4.4" fill="#222" text-anchor="end" font-weight="bold" >0</text>
<text transform="translate(277,191) rotate(-90)" x="0" y="1.7" font-size="4.6" fill="#222" text-anchor="middle" font-weight="bold">gMFI of HK3 (x10<tspan font-size="3" dy="-1.5">3</tspan><tspan dy="1.5">)</tspan></text>
<rect x="292.7" y="174.1" width="10.9" height="45.9" fill="#D4D4D4" />
<circle cx="294.7" cy="173.8" r="1.1" fill="#8a8a8a"/>
<circle cx="297" cy="174.7" r="1.1" fill="#8a8a8a"/>
<circle cx="299.3" cy="173.8" r="1.1" fill="#8a8a8a"/>
<circle cx="301.6" cy="174.7" r="1.1" fill="#8a8a8a"/>
<line x1="298.1" y1="220" x2="298.1" y2="221.6" stroke="#333" stroke-width="0.7"/>
<rect x="308.4" y="194.5" width="10.4" height="25.5" fill="#1B9BB1" />
<circle cx="310.4" cy="194.2" r="1.1" fill="#0E5F70"/>
<circle cx="312.5" cy="195.1" r="1.1" fill="#0E5F70"/>
<circle cx="314.7" cy="194.2" r="1.1" fill="#0E5F70"/>
<circle cx="316.8" cy="195.1" r="1.1" fill="#0E5F70"/>
<line x1="313.6" y1="220" x2="313.6" y2="221.6" stroke="#333" stroke-width="0.7"/>
<rect x="324.5" y="169.1" width="10.3" height="50.9" fill="#AD131B" />
<circle cx="326.5" cy="168.8" r="1.1" fill="#7a0a10"/>
<circle cx="328.6" cy="169.7" r="1.1" fill="#7a0a10"/>
<circle cx="330.7" cy="168.8" r="1.1" fill="#7a0a10"/>
<circle cx="332.8" cy="169.7" r="1.1" fill="#7a0a10"/>
<line x1="329.6" y1="220" x2="329.6" y2="221.6" stroke="#333" stroke-width="0.7"/>
<line x1="297.8" y1="170.3" x2="313.4" y2="170.3" stroke="#666" stroke-width="1.3"/>
<circle cx="301.2" cy="166.4" r="1.1" fill="#1a1a1a"/>
<circle cx="304.3" cy="166.4" r="1.1" fill="#1a1a1a"/>
<circle cx="307.5" cy="166.4" r="1.1" fill="#1a1a1a"/>
<circle cx="310.6" cy="166.4" r="1.1" fill="#1a1a1a"/>
<line x1="313.8" y1="162.5" x2="329.6" y2="162.5" stroke="#666" stroke-width="1.3"/>
<circle cx="316.5" cy="158.6" r="1.1" fill="#1a1a1a"/>
<circle cx="319.6" cy="158.6" r="1.1" fill="#1a1a1a"/>
<circle cx="322.8" cy="158.6" r="1.1" fill="#1a1a1a"/>
<circle cx="325.9" cy="158.6" r="1.1" fill="#1a1a1a"/>
<line x1="298.2" y1="154.7" x2="329" y2="154.7" stroke="#666" stroke-width="1.3"/>
<circle cx="311.8" cy="150.8" r="1.1" fill="#1a1a1a"/>
<circle cx="315" cy="150.8" r="1.1" fill="#1a1a1a"/>
<text transform="translate(299.2,224.6) rotate(-45)" x="0" y="1.5" font-size="4.5" fill="#222" text-anchor="end" font-weight="bold">Mφ</text>
<text transform="translate(314.6,224.6) rotate(-45)" x="0" y="1.5" font-size="4.5" fill="#222" text-anchor="end" font-weight="bold">CD206<tspan font-size="3" dy="-1.5">-</tspan><tspan dy="1.5"> Mφ</tspan></text>
<text transform="translate(330.7,224.6) rotate(-45)" x="0" y="1.5" font-size="4.5" fill="#222" text-anchor="end" font-weight="bold">CD206<tspan font-size="3" dy="-1.5">+</tspan><tspan dy="1.5"> Mφ</tspan></text>
<text x="1" y="249.4" font-size="12" fill="#111" text-anchor="start" font-weight="normal" stroke="#111" stroke-width="0.3">D</text>
<line x1="17.5" y1="265.3" x2="17.5" y2="321.8" stroke="#333" stroke-width="0.9"/>
<line x1="17.5" y1="321.7" x2="178.3" y2="321.7" stroke="#333" stroke-width="0.9"/>
<line x1="15.8" y1="265.3" x2="17.5" y2="265.3" stroke="#333" stroke-width="0.7"/>
<text x="15.3" y="266.9" font-size="4.4" fill="#222" text-anchor="end" font-weight="bold" >2.5</text>
<line x1="15.8" y1="276.6" x2="17.5" y2="276.6" stroke="#333" stroke-width="0.7"/>
<text x="15.3" y="278.2" font-size="4.4" fill="#222" text-anchor="end" font-weight="bold" >2.0</text>
<line x1="15.8" y1="288" x2="17.5" y2="288" stroke="#333" stroke-width="0.7"/>
<text x="15.3" y="289.6" font-size="4.4" fill="#222" text-anchor="end" font-weight="bold" >1.5</text>
<line x1="15.8" y1="299.2" x2="17.5" y2="299.2" stroke="#333" stroke-width="0.7"/>
<text x="15.3" y="300.8" font-size="4.4" fill="#222" text-anchor="end" font-weight="bold" >1.0</text>
<line x1="15.8" y1="310.5" x2="17.5" y2="310.5" stroke="#333" stroke-width="0.7"/>
<text x="15.3" y="312.1" font-size="4.4" fill="#222" text-anchor="end" font-weight="bold" >0.5</text>
<line x1="15.8" y1="321.7" x2="17.5" y2="321.7" stroke="#333" stroke-width="0.7"/>
<text x="15.3" y="323.3" font-size="4.4" fill="#222" text-anchor="end" font-weight="bold" >0.0</text>
<text transform="translate(3.8,287.8) rotate(-90)" x="0" y="1.6" font-size="4.5" fill="#222" text-anchor="middle" font-weight="bold">Relative mRNA levels</text>
<rect x="23.4" y="299" width="10.6" height="22.7" fill="#A3473D" />
<rect x="36.3" y="315.1" width="10.6" height="6.6" fill="#3E5CA9" />
<line x1="35.1" y1="321.7" x2="35.1" y2="323.3" stroke="#333" stroke-width="0.7"/>
<text x="35.1" y="329.2" font-size="4.5" fill="#222" text-anchor="middle" font-weight="bold" >HK3</text>
<circle cx="32" cy="267.7" r="1.1" fill="#1a1a1a"/>
<circle cx="35.1" cy="267.7" r="1.1" fill="#1a1a1a"/>
<circle cx="38.3" cy="267.7" r="1.1" fill="#1a1a1a"/>
<rect x="55" y="299" width="10.6" height="22.7" fill="#A3473D" />
<rect x="68.1" y="274.6" width="10.6" height="47.1" fill="#3E5CA9" />
<line x1="60.3" y1="297.6" x2="60.3" y2="299" stroke="#C06050" stroke-width="0.6"/>
<line x1="58.3" y1="297.6" x2="62.3" y2="297.6" stroke="#C06050" stroke-width="0.6"/>
<line x1="73.4" y1="272.3" x2="73.4" y2="274.6" stroke="#6078C0" stroke-width="0.6"/>
<line x1="71.4" y1="272.3" x2="75.4" y2="272.3" stroke="#6078C0" stroke-width="0.6"/>
<line x1="66.8" y1="321.7" x2="66.8" y2="323.3" stroke="#333" stroke-width="0.7"/>
<text x="66.8" y="329.2" font-size="4.5" fill="#222" text-anchor="middle" font-weight="bold" >CD80</text>
<circle cx="63.7" cy="267.7" r="1.1" fill="#1a1a1a"/>
<circle cx="66.8" cy="267.7" r="1.1" fill="#1a1a1a"/>
<circle cx="70" cy="267.7" r="1.1" fill="#1a1a1a"/>
<rect x="86.1" y="299" width="10.6" height="22.7" fill="#A3473D" />
<rect x="99.2" y="293.5" width="10.6" height="28.2" fill="#3E5CA9" />
<line x1="98" y1="321.7" x2="98" y2="323.3" stroke="#333" stroke-width="0.7"/>
<text x="98" y="329.2" font-size="4.5" fill="#222" text-anchor="middle" font-weight="bold" >CD86</text>
<circle cx="96.4" cy="267.7" r="1.1" fill="#1a1a1a"/>
<circle cx="99.5" cy="267.7" r="1.1" fill="#1a1a1a"/>
<rect x="117.3" y="299" width="10.6" height="22.7" fill="#A3473D" />
<rect x="130.4" y="279.7" width="10.6" height="42" fill="#3E5CA9" />
<line x1="122.6" y1="295.3" x2="122.6" y2="299" stroke="#C06050" stroke-width="0.6"/>
<line x1="120.6" y1="295.3" x2="124.6" y2="295.3" stroke="#C06050" stroke-width="0.6"/>
<line x1="129.2" y1="321.7" x2="129.2" y2="323.3" stroke="#333" stroke-width="0.7"/>
<text x="129.2" y="329.2" font-size="4.5" fill="#222" text-anchor="middle" font-weight="bold" >NOS2</text>
<circle cx="127.6" cy="267.7" r="1.1" fill="#1a1a1a"/>
<circle cx="130.7" cy="267.7" r="1.1" fill="#1a1a1a"/>
<rect x="148.8" y="299" width="10.6" height="22.7" fill="#A3473D" />
<rect x="161.8" y="314.9" width="10.6" height="6.8" fill="#3E5CA9" />
<line x1="160.6" y1="321.7" x2="160.6" y2="323.3" stroke="#333" stroke-width="0.7"/>
<text x="160.6" y="329.2" font-size="4.5" fill="#222" text-anchor="middle" font-weight="bold" >CD163</text>
<circle cx="157.5" cy="267.7" r="1.1" fill="#1a1a1a"/>
<circle cx="160.6" cy="267.7" r="1.1" fill="#1a1a1a"/>
<circle cx="163.8" cy="267.7" r="1.1" fill="#1a1a1a"/>
<rect x="52" y="334.1" width="6.9" height="3" fill="#A3473D" />
<text x="61.9" y="337.4" font-size="5" fill="#222" text-anchor="start" font-weight="normal" >NC</text>
<rect x="102" y="334.1" width="6.9" height="3" fill="#3E5CA9" />
<text x="111" y="337.4" font-size="5" fill="#222" text-anchor="start" font-weight="normal" >HK3-KD</text>
<text x="185" y="249.8" font-size="12" fill="#111" text-anchor="start" font-weight="normal" stroke="#111" stroke-width="0.3">E</text>
<rect x="193" y="259.8" width="66.7" height="67.3" fill="none" stroke="#D0D0D0" stroke-width="0.6"/>
<path d="M206.5,286.9 L206.5,286.4 L207,286 L207.5,285.3 L207.9,284.1 L208.4,282.5 L208.9,279.6 L209.4,277.3 L209.9,273.1 L210.3,268.6 L210.8,266.8 L211.3,263.6 L211.8,263.3 L212.2,265.4 L212.7,265.4 L213.2,265.7 L213.7,267.1 L214.2,267.5 L214.6,269.3 L215.1,269.9 L215.6,270.7 L216.1,270.7 L216.6,270.6 L217,271.7 L217.5,272 L218,273.3 L218.5,273.6 L219,275.3 L219.4,276.1 L219.9,276.7 L220.4,277.8 L220.9,279.2 L221.4,280.5 L221.8,281.3 L222.3,282.2 L222.8,282.9 L223.3,283.4 L223.8,284.1 L224.2,284.4 L224.7,284.8 L225.2,285.2 L225.7,285.4 L226.1,285.6 L226.6,285.8 L227.1,285.9 L227.6,286.1 L228.1,286.2 L228.5,286.3 L229,286.4 L229.5,286.4 L229.5,286.9 Z" fill="#D6B49C" fill-opacity="1" stroke="#C49676" stroke-width="0.5" style="mix-blend-mode:multiply"/>
<line x1="193" y1="286.9" x2="259.7" y2="286.9" stroke="#E6C2B2" stroke-width="0.6"/>
<path d="M206.5,299.6 L206.5,299.2 L206.8,298.9 L207.1,298.6 L207.5,298.2 L207.8,297.7 L208.1,297 L208.4,296.2 L208.8,294.9 L209.1,293.5 L209.4,292 L209.7,290.7 L210.1,288.4 L210.4,286.5 L210.7,284.5 L211,281.3 L211.3,279.3 L211.7,279.7 L212,277 L212.3,277.5 L212.6,278.6 L213,279.8 L213.3,280.2 L213.6,281.9 L213.9,282.8 L214.2,284.2 L214.6,286.3 L214.9,286.7 L215.2,287.8 L215.5,289 L215.9,290.5 L216.2,292 L216.5,292.9 L216.8,293.6 L217.2,294 L217.5,295 L217.8,295.6 L218.1,295.9 L218.4,296.6 L218.8,297 L219.1,297.4 L219.4,297.8 L219.7,298 L220.1,298.2 L220.4,298.5 L220.7,298.7 L221,298.8 L221.4,298.9 L221.7,299.1 L222,299.2 L222,299.6 Z" fill="#A2DAF2" fill-opacity="1" stroke="#88CCEA" stroke-width="0.5" style="mix-blend-mode:multiply"/>
<line x1="193" y1="299.6" x2="259.7" y2="299.6" stroke="#BDE4F4" stroke-width="0.6"/>
<path d="M208,312.3 L208,311.9 L208.6,311.6 L209.2,311.2 L209.8,310.5 L210.4,309.6 L211,308.5 L211.6,307 L212.2,304.8 L212.8,302.6 L213.4,299.3 L214,296.7 L214.6,294.4 L215.2,292.5 L215.9,291.2 L216.5,292.4 L217.1,292.3 L217.7,293.5 L218.3,292.6 L218.9,294.7 L219.5,293.7 L220.1,295.4 L220.7,294.7 L221.3,295.9 L221.9,296.6 L222.5,297.2 L223.1,299.8 L223.7,301.3 L224.3,302 L224.9,303.9 L225.5,305.5 L226.1,305.9 L226.7,306.8 L227.3,307.9 L227.9,308.4 L228.5,309 L229.1,309.3 L229.8,309.6 L230.4,310.1 L231,310.3 L231.6,310.6 L232.2,310.9 L232.8,311 L233.4,311.2 L234,311.4 L234.6,311.5 L235.2,311.6 L235.8,311.7 L236.4,311.8 L237,311.9 L237,312.3 Z" fill="#D4947C" fill-opacity="1" stroke="#C07A62" stroke-width="0.5" style="mix-blend-mode:multiply"/>
<line x1="193" y1="312.3" x2="259.7" y2="312.3" stroke="#EAC0B0" stroke-width="0.6"/>
<path d="M206.5,326 L206.5,325.6 L207,325.3 L207.5,325 L208,324.5 L208.5,323.7 L208.9,322.8 L209.4,321.5 L209.9,320.2 L210.4,318.4 L210.9,316.4 L211.4,314.1 L211.9,311.1 L212.4,309.7 L212.9,307.2 L213.4,306.3 L213.8,305.7 L214.3,306.1 L214.8,306.4 L215.3,307.9 L215.8,309.9 L216.3,310.7 L216.8,312 L217.3,312.4 L217.8,313.7 L218.2,314.8 L218.7,315.9 L219.2,316.9 L219.7,317.7 L220.2,318.7 L220.7,319.8 L221.2,320.2 L221.7,321 L222.2,321.5 L222.7,322.1 L223.1,322.6 L223.6,323.1 L224.1,323.4 L224.6,323.8 L225.1,324.1 L225.6,324.3 L226.1,324.5 L226.6,324.7 L227.1,324.9 L227.6,325.1 L228,325.2 L228.5,325.3 L229,325.4 L229.5,325.5 L230,325.6 L230,326 Z" fill="#ABCBEA" fill-opacity="1" stroke="#90B4DC" stroke-width="0.5" style="mix-blend-mode:multiply"/>
<line x1="193" y1="327.1" x2="259.7" y2="327.1" stroke="#777" stroke-width="0.6"/>
<line x1="193" y1="327.4" x2="208" y2="327.4" stroke="#222" stroke-width="0.9"/>
<line x1="193" y1="327.1" x2="193" y2="328.3" stroke="#333" stroke-width="0.4"/>
<line x1="194.6" y1="327.1" x2="194.6" y2="328.3" stroke="#333" stroke-width="0.4"/>
<line x1="196.2" y1="327.1" x2="196.2" y2="328.3" stroke="#333" stroke-width="0.4"/>
<line x1="197.8" y1="327.1" x2="197.8" y2="328.3" stroke="#333" stroke-width="0.4"/>
<line x1="199.4" y1="327.1" x2="199.4" y2="328.3" stroke="#333" stroke-width="0.4"/>
<line x1="201" y1="327.1" x2="201" y2="328.3" stroke="#333" stroke-width="0.4"/>
<line x1="202.6" y1="327.1" x2="202.6" y2="328.3" stroke="#333" stroke-width="0.4"/>
<line x1="204.2" y1="327.1" x2="204.2" y2="328.3" stroke="#333" stroke-width="0.4"/>
<line x1="205.8" y1="327.1" x2="205.8" y2="328.3" stroke="#333" stroke-width="0.4"/>
<line x1="207.4" y1="327.1" x2="207.4" y2="328.3" stroke="#333" stroke-width="0.4"/>
<line x1="209.1" y1="327.1" x2="209.1" y2="328.6" stroke="#444" stroke-width="0.5"/>
<line x1="237.4" y1="327.1" x2="237.4" y2="328.6" stroke="#444" stroke-width="0.5"/>
<line x1="256.5" y1="327.1" x2="256.5" y2="328.6" stroke="#444" stroke-width="0.5"/>
<text x="209.1" y="332.5" font-size="3" fill="#666" text-anchor="middle" font-weight="normal" >0</text>
<text x="237.4" y="332.5" font-size="3" fill="#666" text-anchor="middle" font-weight="normal" >10²</text>
<text x="256.5" y="332.5" font-size="3" fill="#666" text-anchor="middle" font-weight="normal" >10³</text>
<rect x="207.3" y="326.2" width="1.8" height="1.8" fill="#111" />
<text x="258.6" y="286.5" font-size="4.8" fill="#222" text-anchor="end" font-weight="normal" >WT</text>
<text x="258.6" y="299" font-size="4.8" fill="#222" text-anchor="end" font-weight="normal" >KO</text>
<text x="258.6" y="313.1" font-size="4.8" fill="#222" text-anchor="end" font-weight="normal" >WT+IL-4</text>
<text x="258.6" y="325.7" font-size="4.8" fill="#222" text-anchor="end" font-weight="normal" >KO+IL-4</text>
<text x="225.2" y="338.4" font-size="6.2" fill="#111" text-anchor="middle" font-weight="normal" >CD206</text>
<line x1="279.7" y1="265.6" x2="279.7" y2="323.2" stroke="#333" stroke-width="0.9"/>
<line x1="279.7" y1="323.1" x2="344" y2="323.1" stroke="#333" stroke-width="0.9"/>
<line x1="278" y1="265.6" x2="279.7" y2="265.6" stroke="#333" stroke-width="0.7"/>
<text x="277.4" y="267.2" font-size="4.4" fill="#222" text-anchor="end" font-weight="bold" >20</text>
<line x1="278" y1="280.1" x2="279.7" y2="280.1" stroke="#333" stroke-width="0.7"/>
<text x="277.4" y="281.7" font-size="4.4" fill="#222" text-anchor="end" font-weight="bold" >15</text>
<line x1="278" y1="294.5" x2="279.7" y2="294.5" stroke="#333" stroke-width="0.7"/>
<text x="277.4" y="296.1" font-size="4.4" fill="#222" text-anchor="end" font-weight="bold" >10</text>
<line x1="278" y1="308.8" x2="279.7" y2="308.8" stroke="#333" stroke-width="0.7"/>
<text x="277.4" y="310.4" font-size="4.4" fill="#222" text-anchor="end" font-weight="bold" >5</text>
<line x1="278" y1="323.1" x2="279.7" y2="323.1" stroke="#333" stroke-width="0.7"/>
<text x="277.4" y="324.7" font-size="4.4" fill="#222" text-anchor="end" font-weight="bold" >0</text>
<text transform="translate(269.6,294.5) rotate(-90)" x="0" y="1.7" font-size="4.6" fill="#222" text-anchor="middle" font-weight="bold">gMFI of CD206 (x10<tspan font-size="3" dy="-1.5">3</tspan><tspan dy="1.5">)</tspan></text>
<rect x="286.3" y="292.4" width="10.6" height="30.7" fill="#A3473D" />
<rect x="299.3" y="298.7" width="10.6" height="24.4" fill="#3E5CA9" />
<rect x="317.5" y="273.4" width="10.1" height="49.7" fill="#A3473D" />
<rect x="330" y="288.6" width="10.6" height="34.5" fill="#3E5CA9" />
<line x1="291.6" y1="288.1" x2="291.6" y2="292.4" stroke="#C06050" stroke-width="0.6"/>
<line x1="289.6" y1="288.1" x2="293.6" y2="288.1" stroke="#C06050" stroke-width="0.6"/>
<line x1="298.1" y1="323.1" x2="298.1" y2="324.7" stroke="#333" stroke-width="0.7"/>
<line x1="329" y1="323.1" x2="329" y2="324.7" stroke="#333" stroke-width="0.7"/>
<text x="298.1" y="329" font-size="4.5" fill="#222" text-anchor="middle" font-weight="bold" >untreated</text>
<text x="329" y="329" font-size="4.5" fill="#222" text-anchor="middle" font-weight="bold" >IL4</text>
<line x1="291.5" y1="267.3" x2="305.7" y2="267.3" stroke="#444" stroke-width="1.1"/>
<text x="298.4" y="265.7" font-size="5" fill="#222" text-anchor="middle" font-weight="normal" >ns</text>
<line x1="322.4" y1="267.3" x2="335.9" y2="267.3" stroke="#444" stroke-width="1.1"/>
<circle cx="324.4" cy="264" r="1.1" fill="#1a1a1a"/>
<circle cx="327.5" cy="264" r="1.1" fill="#1a1a1a"/>
<circle cx="330.7" cy="264" r="1.1" fill="#1a1a1a"/>
<circle cx="333.8" cy="264" r="1.1" fill="#1a1a1a"/>
<rect x="291" y="333.9" width="7.1" height="3" fill="#A3473D" />
<text x="301" y="337.2" font-size="5" fill="#222" text-anchor="start" font-weight="normal" >WT</text>
<rect x="320.6" y="333.9" width="7" height="3" fill="#3E5CA9" />
<text x="331.2" y="337.2" font-size="5" fill="#222" text-anchor="start" font-weight="normal" >KO</text>
<text x="0.7" y="368.5" font-size="12" fill="#111" text-anchor="start" font-weight="normal" stroke="#111" stroke-width="0.3">F</text>
<rect x="9.4" y="372.8" width="66.8" height="8.5" rx="1" fill="#fff" stroke="#999" stroke-width="0.6"/>
<text x="42.8" y="379.8" font-size="7.5" fill="#111" text-anchor="middle" font-weight="normal" stroke="#111" stroke-width="0.15">NC</text>
<rect x="79.3" y="372.8" width="66.5" height="8.5" rx="1" fill="#fff" stroke="#999" stroke-width="0.6"/>
<text x="112.9" y="379.8" font-size="7.5" fill="#111" text-anchor="middle" font-weight="normal" stroke="#111" stroke-width="0.15">HK3-KD</text>
<rect x="8.9" y="383.8" width="67.3" height="53.2" fill="#EAF0E0" />
<g transform="translate(8.9,383.8)">
<path d="M4,0h1v1h-1zM16,0h1v1h-1zM45,1h1v1h-1zM58,1h1v1h-1zM26,2h1v1h-1zM65,2h1v1h-1zM36,3h1v1h-1zM12,4h1v1h-1zM18,4h1v1h-1zM38,4h1v1h-1zM34,5h1v1h-1zM16,6h1v1h-1zM25,6h1v1h-1zM12,7h1v1h-1zM29,7h1v1h-1zM65,7h1v1h-1zM37,9h1v1h-1zM2,10h1v1h-1zM0,12h1v1h-1zM24,14h1v1h-1zM42,15h1v1h-1zM65,15h1v1h-1zM38,16h1v1h-1zM40,16h1v1h-1zM55,16h1v1h-1zM37,18h1v1h-1zM59,18h1v1h-1zM27,19h1v1h-1zM43,19h1v1h-1zM59,19h1v1h-1zM39,20h1v1h-1zM52,20h1v1h-1zM23,21h1v1h-1zM26,21h1v1h-1zM19,22h1v1h-1zM22,22h1v1h-1zM15,23h1v1h-1zM61,23h1v1h-1zM44,24h1v1h-1zM61,24h1v1h-1zM20,26h1v1h-1zM24,26h1v1h-1zM48,26h1v1h-1zM57,26h1v1h-1zM36,28h1v1h-1zM62,29h1v1h-1zM50,30h1v1h-1zM17,31h1v1h-1zM19,31h1v1h-1zM8,32h1v1h-1zM40,32h1v1h-1zM21,33h1v1h-1zM36,33h1v1h-1zM51,33h1v1h-1zM53,33h1v1h-1zM2,34h1v1h-1zM17,34h1v1h-1zM18,34h1v1h-1zM5,35h1v1h-1zM25,35h1v1h-1zM64,35h1v1h-1zM8,36h1v1h-1zM19,36h1v1h-1zM23,37h1v1h-1zM25,37h1v1h-1zM59,37h1v1h-1zM63,37h1v1h-1zM13,38h1v1h-1zM54,38h1v1h-1zM8,39h1v1h-1zM12,39h1v1h-1zM35,40h1v1h-1zM10,41h1v1h-1zM29,41h1v1h-1zM18,43h1v1h-1zM37,43h1v1h-1zM49,43h1v1h-1zM60,43h1v1h-1zM8,44h1v1h-1zM56,44h1v1h-1zM12,46h1v1h-1zM11,47h1v1h-1zM16,47h1v1h-1zM18,47h1v1h-1zM54,47h1v1h-1zM1,48h1v1h-1zM5,48h1v1h-1zM44,48h1v1h-1zM53,48h1v1h-1zM54,48h1v1h-1zM56,48h1v1h-1zM22,49h1v1h-1zM39,49h1v1h-1zM61,49h1v1h-1zM60,50h1v1h-1zM12,51h1v1h-1zM53,51h1v1h-1zM56,51h1v1h-1zM62,51h1v1h-1zM27,52h1v1h-1zM33,52h1v1h-1zM51,52h1v1h-1z" fill="#7C8CDC"/>
<path d="M7,0h1v1h-1zM11,0h1v1h-1zM19,0h1v1h-1zM31,0h1v1h-1zM42,0h1v1h-1zM54,0h1v1h-1zM7,1h1v1h-1zM25,1h1v1h-1zM30,1h1v1h-1zM35,1h1v1h-1zM61,1h1v1h-1zM6,2h1v1h-1zM21,2h1v1h-1zM28,2h1v1h-1zM35,2h1v1h-1zM43,2h1v1h-1zM52,2h1v1h-1zM5,3h1v1h-1zM17,3h1v1h-1zM40,3h1v1h-1zM42,3h1v1h-1zM47,3h1v1h-1zM8,4h1v1h-1zM14,4h1v1h-1zM20,4h1v1h-1zM29,4h1v1h-1zM40,4h1v1h-1zM45,4h1v1h-1zM63,4h1v1h-1zM64,4h1v1h-1zM9,5h1v1h-1zM12,5h1v1h-1zM40,5h1v1h-1zM51,5h1v1h-1zM58,5h1v1h-1zM61,5h1v1h-1zM35,6h1v1h-1zM6,7h1v1h-1zM35,7h1v1h-1zM42,7h1v1h-1zM48,7h1v1h-1zM4,8h1v1h-1zM11,8h1v1h-1zM22,8h1v1h-1zM24,8h1v1h-1zM30,8h1v1h-1zM50,8h1v1h-1zM34,9h1v1h-1zM36,9h1v1h-1zM38,9h1v1h-1zM41,9h1v1h-1zM43,9h1v1h-1zM7,10h1v1h-1zM17,10h1v1h-1zM33,10h1v1h-1zM44,10h1v1h-1zM53,10h1v1h-1zM58,10h1v1h-1zM5,11h1v1h-1zM15,11h1v1h-1zM16,11h1v1h-1zM38,11h1v1h-1zM12,12h1v1h-1zM17,12h1v1h-1zM30,12h1v1h-1zM40,12h1v1h-1zM61,12h1v1h-1zM4,13h1v1h-1zM13,13h1v1h-1zM35,13h1v1h-1zM3,14h1v1h-1zM10,14h1v1h-1zM26,14h1v1h-1zM37,14h1v1h-1zM44,14h1v1h-1zM10,15h1v1h-1zM21,15h1v1h-1zM57,15h1v1h-1zM2,16h1v1h-1zM19,16h1v1h-1zM28,16h1v1h-1zM50,16h1v1h-1zM54,16h1v1h-1zM56,16h1v1h-1zM9,17h1v1h-1zM21,17h1v1h-1zM25,17h1v1h-1zM31,17h1v1h-1zM57,17h1v1h-1zM1,18h1v1h-1zM7,18h1v1h-1zM32,18h1v1h-1zM36,18h1v1h-1zM40,18h1v1h-1zM58,18h1v1h-1zM3,19h1v1h-1zM10,19h1v1h-1zM29,19h1v1h-1zM44,19h1v1h-1zM53,19h1v1h-1zM58,19h1v1h-1zM60,19h1v1h-1zM62,19h1v1h-1zM11,20h1v1h-1zM15,20h1v1h-1zM25,20h1v1h-1zM32,20h1v1h-1zM36,20h1v1h-1zM9,21h1v1h-1zM24,21h1v1h-1zM46,21h1v1h-1zM48,21h1v1h-1zM51,21h1v1h-1zM60,21h1v1h-1zM63,21h1v1h-1zM1,22h1v1h-1zM3,22h1v1h-1zM4,22h1v1h-1zM5,22h1v1h-1zM7,22h1v1h-1zM20,22h1v1h-1zM29,22h1v1h-1zM51,22h1v1h-1zM58,22h1v1h-1zM65,22h1v1h-1zM66,22h1v1h-1zM10,23h1v1h-1zM17,23h1v1h-1zM32,23h1v1h-1zM49,23h1v1h-1zM58,23h1v1h-1zM6,24h1v1h-1zM16,24h1v1h-1zM35,24h1v1h-1zM52,24h1v1h-1zM54,24h1v1h-1zM64,24h1v1h-1zM2,25h1v1h-1zM11,25h1v1h-1zM22,25h1v1h-1zM53,25h1v1h-1zM66,25h1v1h-1zM23,26h1v1h-1zM35,26h1v1h-1zM37,26h1v1h-1zM52,26h1v1h-1zM58,26h1v1h-1zM61,26h1v1h-1zM65,26h1v1h-1zM24,27h1v1h-1zM27,27h1v1h-1zM66,27h1v1h-1zM0,28h1v1h-1zM3,28h1v1h-1zM6,28h1v1h-1zM12,28h1v1h-1zM16,28h1v1h-1zM22,28h1v1h-1zM25,28h1v1h-1zM32,28h1v1h-1zM34,28h1v1h-1zM63,28h1v1h-1zM0,29h1v1h-1zM2,29h1v1h-1zM10,29h1v1h-1zM14,29h1v1h-1zM19,29h1v1h-1zM21,29h1v1h-1zM23,29h1v1h-1zM26,29h1v1h-1zM27,29h1v1h-1zM31,29h1v1h-1zM46,29h1v1h-1zM3,30h1v1h-1zM5,30h1v1h-1zM39,30h1v1h-1zM66,30h1v1h-1zM6,31h1v1h-1zM27,31h1v1h-1zM30,31h1v1h-1zM41,31h1v1h-1zM24,32h1v1h-1zM25,32h1v1h-1zM51,32h1v1h-1zM52,32h1v1h-1zM3,33h1v1h-1zM4,33h1v1h-1zM9,33h1v1h-1zM24,33h1v1h-1zM29,33h1v1h-1zM37,33h1v1h-1zM41,33h1v1h-1zM13,34h1v1h-1zM23,34h1v1h-1zM26,34h1v1h-1zM58,34h1v1h-1zM1,35h1v1h-1zM11,35h1v1h-1zM12,35h1v1h-1zM13,35h1v1h-1zM16,35h1v1h-1zM22,35h1v1h-1zM27,35h1v1h-1zM51,35h1v1h-1zM52,35h1v1h-1zM7,36h1v1h-1zM21,36h1v1h-1zM24,36h1v1h-1zM53,36h1v1h-1zM64,36h1v1h-1zM15,37h1v1h-1zM42,37h1v1h-1zM56,37h1v1h-1zM1,38h1v1h-1zM8,38h1v1h-1zM16,38h1v1h-1zM26,38h1v1h-1zM50,38h1v1h-1zM51,38h1v1h-1zM55,38h1v1h-1zM61,38h1v1h-1zM19,39h1v1h-1zM22,39h1v1h-1zM23,39h1v1h-1zM37,39h1v1h-1zM40,39h1v1h-1zM49,39h1v1h-1zM50,39h1v1h-1zM51,39h1v1h-1zM10,40h1v1h-1zM66,40h1v1h-1zM11,41h1v1h-1zM24,41h1v1h-1zM34,41h1v1h-1zM44,41h1v1h-1zM45,41h1v1h-1zM55,41h1v1h-1zM57,41h1v1h-1zM62,41h1v1h-1zM64,41h1v1h-1zM11,42h1v1h-1zM21,42h1v1h-1zM25,42h1v1h-1zM54,42h1v1h-1zM59,42h1v1h-1zM1,43h1v1h-1zM10,43h1v1h-1zM30,43h1v1h-1zM52,43h1v1h-1zM63,43h1v1h-1zM64,43h1v1h-1zM3,44h1v1h-1zM6,44h1v1h-1zM15,44h1v1h-1zM32,44h1v1h-1zM44,44h1v1h-1zM47,44h1v1h-1zM49,44h1v1h-1zM50,44h1v1h-1zM59,44h1v1h-1zM4,45h1v1h-1zM30,45h1v1h-1zM34,45h1v1h-1zM39,45h1v1h-1zM56,45h1v1h-1zM59,45h1v1h-1zM63,45h1v1h-1zM65,45h1v1h-1zM19,46h1v1h-1zM62,46h1v1h-1zM64,46h1v1h-1zM0,47h1v1h-1zM5,47h1v1h-1zM9,47h1v1h-1zM10,47h1v1h-1zM20,47h1v1h-1zM29,47h1v1h-1zM56,47h1v1h-1zM12,48h1v1h-1zM57,48h1v1h-1zM60,48h1v1h-1zM62,48h1v1h-1zM1,49h1v1h-1zM18,49h1v1h-1zM30,49h1v1h-1zM37,49h1v1h-1zM48,49h1v1h-1zM50,49h1v1h-1zM56,49h1v1h-1zM64,49h1v1h-1zM0,50h1v1h-1zM13,50h1v1h-1zM21,50h1v1h-1zM22,50h1v1h-1zM31,50h1v1h-1zM0,51h1v1h-1zM6,51h1v1h-1zM10,51h1v1h-1zM43,51h1v1h-1zM51,51h1v1h-1zM54,51h1v1h-1zM0,52h1v1h-1zM4,52h1v1h-1zM10,52h1v1h-1zM30,52h1v1h-1z" fill="#A4B2E6"/>
<path d="M22,0h1v1h-1zM24,0h1v1h-1zM30,0h1v1h-1zM33,0h1v1h-1zM35,0h1v1h-1zM45,0h1v1h-1zM55,0h1v1h-1zM66,0h1v1h-1zM6,1h1v1h-1zM22,1h1v1h-1zM24,1h1v1h-1zM34,1h1v1h-1zM41,1h1v1h-1zM46,1h1v1h-1zM4,2h1v1h-1zM5,2h1v1h-1zM8,2h1v1h-1zM11,2h1v1h-1zM15,2h1v1h-1zM16,2h1v1h-1zM17,2h1v1h-1zM30,2h1v1h-1zM37,2h1v1h-1zM39,2h1v1h-1zM58,2h1v1h-1zM59,2h1v1h-1zM60,2h1v1h-1zM12,3h1v1h-1zM37,3h1v1h-1zM38,3h1v1h-1zM43,3h1v1h-1zM50,3h1v1h-1zM17,4h1v1h-1zM25,4h1v1h-1zM30,4h1v1h-1zM33,4h1v1h-1zM44,4h1v1h-1zM57,4h1v1h-1zM58,4h1v1h-1zM2,5h1v1h-1zM11,5h1v1h-1zM16,5h1v1h-1zM19,5h1v1h-1zM24,5h1v1h-1zM44,5h1v1h-1zM64,5h1v1h-1zM2,6h1v1h-1zM13,6h1v1h-1zM30,6h1v1h-1zM31,6h1v1h-1zM47,6h1v1h-1zM51,6h1v1h-1zM54,6h1v1h-1zM66,6h1v1h-1zM5,7h1v1h-1zM9,7h1v1h-1zM27,7h1v1h-1zM32,7h1v1h-1zM37,7h1v1h-1zM41,7h1v1h-1zM43,7h1v1h-1zM44,7h1v1h-1zM47,7h1v1h-1zM50,7h1v1h-1zM56,7h1v1h-1zM59,7h1v1h-1zM9,8h1v1h-1zM16,8h1v1h-1zM23,8h1v1h-1zM28,8h1v1h-1zM33,8h1v1h-1zM42,8h1v1h-1zM46,8h1v1h-1zM49,8h1v1h-1zM2,9h1v1h-1zM13,9h1v1h-1zM16,9h1v1h-1zM17,9h1v1h-1zM51,9h1v1h-1zM61,9h1v1h-1zM4,10h1v1h-1zM9,10h1v1h-1zM15,10h1v1h-1zM20,10h1v1h-1zM21,10h1v1h-1zM27,10h1v1h-1zM29,10h1v1h-1zM39,10h1v1h-1zM48,10h1v1h-1zM50,10h1v1h-1zM55,10h1v1h-1zM1,11h1v1h-1zM7,11h1v1h-1zM13,11h1v1h-1zM17,11h1v1h-1zM18,11h1v1h-1zM26,11h1v1h-1zM33,11h1v1h-1zM49,11h1v1h-1zM3,12h1v1h-1zM20,12h1v1h-1zM21,12h1v1h-1zM24,12h1v1h-1zM26,12h1v1h-1zM36,12h1v1h-1zM41,12h1v1h-1zM42,12h1v1h-1zM52,12h1v1h-1zM53,12h1v1h-1zM55,12h1v1h-1zM28,13h1v1h-1zM32,13h1v1h-1zM36,13h1v1h-1zM47,13h1v1h-1zM58,13h1v1h-1zM0,14h1v1h-1zM1,14h1v1h-1zM30,14h1v1h-1zM35,14h1v1h-1zM41,14h1v1h-1zM43,14h1v1h-1zM65,14h1v1h-1zM3,15h1v1h-1zM6,15h1v1h-1zM8,15h1v1h-1zM16,15h1v1h-1zM25,15h1v1h-1zM27,15h1v1h-1zM29,15h1v1h-1zM31,15h1v1h-1zM34,15h1v1h-1zM41,15h1v1h-1zM54,15h1v1h-1zM6,16h1v1h-1zM29,16h1v1h-1zM42,16h1v1h-1zM46,16h1v1h-1zM60,16h1v1h-1zM63,16h1v1h-1zM10,17h1v1h-1zM28,17h1v1h-1zM33,17h1v1h-1zM40,17h1v1h-1zM49,17h1v1h-1zM51,17h1v1h-1zM53,17h1v1h-1zM60,17h1v1h-1zM16,18h1v1h-1zM23,18h1v1h-1zM26,18h1v1h-1zM31,18h1v1h-1zM33,18h1v1h-1zM42,18h1v1h-1zM47,18h1v1h-1zM61,18h1v1h-1zM66,18h1v1h-1zM0,19h1v1h-1zM23,19h1v1h-1zM32,19h1v1h-1zM33,19h1v1h-1zM37,19h1v1h-1zM49,19h1v1h-1zM51,19h1v1h-1zM57,19h1v1h-1zM5,20h1v1h-1zM21,20h1v1h-1zM29,20h1v1h-1zM42,20h1v1h-1zM45,20h1v1h-1zM58,20h1v1h-1zM7,21h1v1h-1zM11,21h1v1h-1zM14,21h1v1h-1zM28,21h1v1h-1zM44,21h1v1h-1zM56,21h1v1h-1zM59,21h1v1h-1zM64,21h1v1h-1zM10,22h1v1h-1zM14,22h1v1h-1zM24,22h1v1h-1zM33,22h1v1h-1zM39,22h1v1h-1zM48,22h1v1h-1zM50,22h1v1h-1zM59,22h1v1h-1zM62,22h1v1h-1zM63,22h1v1h-1zM0,23h1v1h-1zM4,23h1v1h-1zM19,23h1v1h-1zM23,23h1v1h-1zM27,23h1v1h-1zM44,23h1v1h-1zM55,23h1v1h-1zM62,23h1v1h-1zM64,23h1v1h-1zM9,24h1v1h-1zM11,24h1v1h-1zM28,24h1v1h-1zM31,24h1v1h-1zM38,24h1v1h-1zM53,24h1v1h-1zM62,24h1v1h-1zM0,25h1v1h-1zM1,25h1v1h-1zM12,25h1v1h-1zM18,25h1v1h-1zM30,25h1v1h-1zM33,25h1v1h-1zM44,25h1v1h-1zM52,25h1v1h-1zM56,25h1v1h-1zM63,25h1v1h-1zM65,25h1v1h-1zM4,26h1v1h-1zM5,26h1v1h-1zM16,26h1v1h-1zM17,26h1v1h-1zM29,26h1v1h-1zM31,26h1v1h-1zM32,26h1v1h-1zM34,26h1v1h-1zM41,26h1v1h-1zM47,26h1v1h-1zM63,26h1v1h-1zM3,27h1v1h-1zM8,27h1v1h-1zM12,27h1v1h-1zM14,27h1v1h-1zM21,27h1v1h-1zM26,27h1v1h-1zM28,27h1v1h-1zM44,27h1v1h-1zM47,27h1v1h-1zM50,27h1v1h-1zM55,27h1v1h-1zM1,28h1v1h-1zM5,28h1v1h-1zM15,28h1v1h-1zM23,28h1v1h-1zM33,28h1v1h-1zM48,28h1v1h-1zM53,28h1v1h-1zM56,28h1v1h-1zM58,28h1v1h-1zM66,28h1v1h-1zM3,29h1v1h-1zM5,29h1v1h-1zM7,29h1v1h-1zM16,29h1v1h-1zM30,29h1v1h-1zM34,29h1v1h-1zM36,29h1v1h-1zM45,29h1v1h-1zM51,29h1v1h-1zM54,29h1v1h-1zM64,29h1v1h-1zM17,30h1v1h-1zM18,30h1v1h-1zM23,30h1v1h-1zM41,30h1v1h-1zM12,31h1v1h-1zM20,31h1v1h-1zM33,31h1v1h-1zM42,31h1v1h-1zM44,31h1v1h-1zM50,31h1v1h-1zM55,31h1v1h-1zM64,31h1v1h-1zM17,32h1v1h-1zM18,32h1v1h-1zM55,32h1v1h-1zM59,32h1v1h-1zM13,33h1v1h-1zM39,33h1v1h-1zM40,33h1v1h-1zM60,33h1v1h-1zM64,33h1v1h-1zM66,33h1v1h-1zM3,34h1v1h-1zM6,34h1v1h-1zM7,34h1v1h-1zM21,34h1v1h-1zM36,34h1v1h-1zM62,34h1v1h-1zM63,34h1v1h-1zM0,35h1v1h-1zM8,35h1v1h-1zM10,35h1v1h-1zM17,35h1v1h-1zM18,35h1v1h-1zM19,35h1v1h-1zM29,35h1v1h-1zM34,35h1v1h-1zM63,35h1v1h-1zM4,36h1v1h-1zM14,36h1v1h-1zM16,36h1v1h-1zM17,36h1v1h-1zM39,36h1v1h-1zM7,37h1v1h-1zM20,37h1v1h-1zM60,37h1v1h-1zM2,38h1v1h-1zM7,38h1v1h-1zM10,38h1v1h-1zM14,38h1v1h-1zM15,38h1v1h-1zM18,38h1v1h-1zM19,38h1v1h-1zM20,38h1v1h-1zM31,38h1v1h-1zM38,38h1v1h-1zM42,38h1v1h-1zM43,38h1v1h-1zM48,38h1v1h-1zM49,38h1v1h-1zM62,38h1v1h-1zM65,38h1v1h-1zM17,39h1v1h-1zM28,39h1v1h-1zM64,39h1v1h-1zM0,40h1v1h-1zM1,40h1v1h-1zM4,40h1v1h-1zM13,40h1v1h-1zM21,40h1v1h-1zM31,40h1v1h-1zM48,40h1v1h-1zM50,40h1v1h-1zM60,40h1v1h-1zM63,40h1v1h-1zM9,41h1v1h-1zM15,41h1v1h-1zM20,41h1v1h-1zM23,41h1v1h-1zM36,41h1v1h-1zM41,41h1v1h-1zM46,41h1v1h-1zM47,41h1v1h-1zM49,41h1v1h-1zM54,41h1v1h-1zM58,41h1v1h-1zM63,41h1v1h-1zM5,42h1v1h-1zM9,42h1v1h-1zM15,42h1v1h-1zM18,42h1v1h-1zM20,42h1v1h-1zM22,42h1v1h-1zM29,42h1v1h-1zM32,42h1v1h-1zM41,42h1v1h-1zM44,42h1v1h-1zM45,42h1v1h-1zM55,42h1v1h-1zM60,42h1v1h-1zM63,42h1v1h-1zM66,42h1v1h-1zM3,43h1v1h-1zM7,43h1v1h-1zM8,43h1v1h-1zM11,43h1v1h-1zM12,43h1v1h-1zM21,43h1v1h-1zM22,43h1v1h-1zM23,43h1v1h-1zM31,43h1v1h-1zM45,43h1v1h-1zM59,43h1v1h-1zM62,43h1v1h-1zM2,44h1v1h-1zM5,44h1v1h-1zM10,44h1v1h-1zM11,44h1v1h-1zM24,44h1v1h-1zM26,44h1v1h-1zM43,44h1v1h-1zM60,44h1v1h-1zM61,44h1v1h-1zM1,45h1v1h-1zM5,45h1v1h-1zM6,45h1v1h-1zM31,45h1v1h-1zM41,45h1v1h-1zM51,45h1v1h-1zM53,45h1v1h-1zM14,46h1v1h-1zM28,46h1v1h-1zM30,46h1v1h-1zM31,46h1v1h-1zM35,46h1v1h-1zM41,46h1v1h-1zM43,46h1v1h-1zM1,47h1v1h-1zM2,47h1v1h-1zM4,47h1v1h-1zM14,47h1v1h-1zM19,47h1v1h-1zM22,47h1v1h-1zM28,47h1v1h-1zM33,47h1v1h-1zM44,47h1v1h-1zM53,47h1v1h-1zM59,47h1v1h-1zM2,48h1v1h-1zM3,48h1v1h-1zM17,48h1v1h-1zM38,48h1v1h-1zM51,48h1v1h-1zM2,49h1v1h-1zM5,49h1v1h-1zM9,49h1v1h-1zM20,49h1v1h-1zM27,49h1v1h-1zM36,49h1v1h-1zM60,49h1v1h-1zM63,49h1v1h-1zM65,49h1v1h-1zM5,50h1v1h-1zM7,50h1v1h-1zM9,50h1v1h-1zM35,50h1v1h-1zM53,50h1v1h-1zM57,50h1v1h-1zM58,50h1v1h-1zM66,50h1v1h-1zM5,51h1v1h-1zM18,51h1v1h-1zM25,51h1v1h-1zM29,51h1v1h-1zM33,51h1v1h-1zM34,51h1v1h-1zM45,51h1v1h-1zM46,51h1v1h-1zM59,51h1v1h-1zM63,51h1v1h-1zM64,51h1v1h-1zM65,51h1v1h-1zM3,52h1v1h-1zM6,52h1v1h-1zM7,52h1v1h-1zM20,52h1v1h-1zM61,52h1v1h-1zM62,52h1v1h-1zM64,52h1v1h-1z" fill="#C4CEEA"/>
<path d="M9,0h1v1h-1zM10,0h1v1h-1zM17,0h1v1h-1zM21,0h1v1h-1zM43,0h1v1h-1zM48,0h1v1h-1zM49,0h1v1h-1zM62,0h1v1h-1zM0,1h1v1h-1zM15,1h1v1h-1zM21,1h1v1h-1zM31,1h1v1h-1zM32,1h1v1h-1zM36,1h1v1h-1zM40,1h1v1h-1zM43,1h1v1h-1zM66,1h1v1h-1zM3,2h1v1h-1zM13,2h1v1h-1zM18,2h1v1h-1zM32,2h1v1h-1zM34,2h1v1h-1zM36,2h1v1h-1zM40,2h1v1h-1zM45,2h1v1h-1zM48,2h1v1h-1zM13,3h1v1h-1zM29,3h1v1h-1zM39,3h1v1h-1zM46,3h1v1h-1zM59,3h1v1h-1zM61,3h1v1h-1zM6,4h1v1h-1zM21,4h1v1h-1zM24,4h1v1h-1zM52,4h1v1h-1zM61,4h1v1h-1zM1,5h1v1h-1zM13,5h1v1h-1zM35,5h1v1h-1zM53,5h1v1h-1zM57,5h1v1h-1zM63,5h1v1h-1zM9,6h1v1h-1zM23,6h1v1h-1zM24,6h1v1h-1zM36,6h1v1h-1zM39,6h1v1h-1zM40,6h1v1h-1zM46,6h1v1h-1zM57,6h1v1h-1zM62,6h1v1h-1zM63,6h1v1h-1zM4,7h1v1h-1zM18,7h1v1h-1zM21,7h1v1h-1zM22,7h1v1h-1zM39,7h1v1h-1zM40,7h1v1h-1zM53,7h1v1h-1zM60,7h1v1h-1zM66,7h1v1h-1zM17,8h1v1h-1zM20,8h1v1h-1zM25,8h1v1h-1zM29,8h1v1h-1zM34,8h1v1h-1zM36,8h1v1h-1zM41,8h1v1h-1zM44,8h1v1h-1zM45,8h1v1h-1zM51,8h1v1h-1zM55,8h1v1h-1zM66,8h1v1h-1zM8,9h1v1h-1zM31,9h1v1h-1zM33,9h1v1h-1zM35,9h1v1h-1zM45,9h1v1h-1zM6,10h1v1h-1zM19,10h1v1h-1zM22,10h1v1h-1zM28,10h1v1h-1zM30,10h1v1h-1zM2,11h1v1h-1zM4,11h1v1h-1zM9,11h1v1h-1zM10,11h1v1h-1zM19,11h1v1h-1zM20,11h1v1h-1zM40,11h1v1h-1zM44,11h1v1h-1zM45,11h1v1h-1zM50,11h1v1h-1zM52,11h1v1h-1zM59,11h1v1h-1zM64,11h1v1h-1zM1,12h1v1h-1zM15,12h1v1h-1zM22,12h1v1h-1zM37,12h1v1h-1zM50,12h1v1h-1zM0,13h1v1h-1zM3,13h1v1h-1zM16,13h1v1h-1zM18,13h1v1h-1zM24,13h1v1h-1zM25,13h1v1h-1zM29,13h1v1h-1zM33,13h1v1h-1zM44,13h1v1h-1zM45,13h1v1h-1zM50,13h1v1h-1zM65,13h1v1h-1zM66,13h1v1h-1zM9,14h1v1h-1zM12,14h1v1h-1zM17,14h1v1h-1zM20,14h1v1h-1zM21,14h1v1h-1zM39,14h1v1h-1zM51,14h1v1h-1zM55,14h1v1h-1zM58,14h1v1h-1zM62,14h1v1h-1zM64,14h1v1h-1zM9,15h1v1h-1zM13,15h1v1h-1zM19,15h1v1h-1zM22,15h1v1h-1zM23,15h1v1h-1zM26,15h1v1h-1zM46,15h1v1h-1zM62,15h1v1h-1zM64,15h1v1h-1zM66,15h1v1h-1zM3,16h1v1h-1zM5,16h1v1h-1zM26,16h1v1h-1zM32,16h1v1h-1zM34,16h1v1h-1zM44,16h1v1h-1zM47,16h1v1h-1zM2,17h1v1h-1zM4,17h1v1h-1zM14,17h1v1h-1zM17,17h1v1h-1zM24,17h1v1h-1zM30,17h1v1h-1zM34,17h1v1h-1zM62,17h1v1h-1zM64,17h1v1h-1zM66,17h1v1h-1zM2,18h1v1h-1zM5,18h1v1h-1zM8,18h1v1h-1zM14,18h1v1h-1zM25,18h1v1h-1zM27,18h1v1h-1zM48,18h1v1h-1zM5,19h1v1h-1zM18,19h1v1h-1zM24,19h1v1h-1zM26,19h1v1h-1zM34,19h1v1h-1zM38,19h1v1h-1zM52,19h1v1h-1zM56,19h1v1h-1zM66,19h1v1h-1zM2,20h1v1h-1zM3,20h1v1h-1zM12,20h1v1h-1zM14,20h1v1h-1zM23,20h1v1h-1zM27,20h1v1h-1zM30,20h1v1h-1zM44,20h1v1h-1zM50,20h1v1h-1zM54,20h1v1h-1zM1,21h1v1h-1zM8,21h1v1h-1zM10,21h1v1h-1zM12,21h1v1h-1zM18,21h1v1h-1zM19,21h1v1h-1zM30,21h1v1h-1zM34,21h1v1h-1zM37,21h1v1h-1zM38,21h1v1h-1zM47,21h1v1h-1zM52,21h1v1h-1zM53,21h1v1h-1zM55,21h1v1h-1zM27,22h1v1h-1zM30,22h1v1h-1zM32,22h1v1h-1zM35,22h1v1h-1zM37,22h1v1h-1zM54,22h1v1h-1zM2,23h1v1h-1zM7,23h1v1h-1zM16,23h1v1h-1zM24,23h1v1h-1zM26,23h1v1h-1zM30,23h1v1h-1zM31,23h1v1h-1zM33,23h1v1h-1zM35,23h1v1h-1zM47,23h1v1h-1zM2,24h1v1h-1zM7,24h1v1h-1zM21,24h1v1h-1zM22,24h1v1h-1zM65,24h1v1h-1zM13,25h1v1h-1zM14,25h1v1h-1zM17,25h1v1h-1zM37,25h1v1h-1zM51,25h1v1h-1zM55,25h1v1h-1zM14,26h1v1h-1zM19,26h1v1h-1zM21,26h1v1h-1zM22,26h1v1h-1zM33,26h1v1h-1zM43,26h1v1h-1zM56,26h1v1h-1zM60,26h1v1h-1zM62,26h1v1h-1zM6,27h1v1h-1zM13,27h1v1h-1zM16,27h1v1h-1zM23,27h1v1h-1zM35,27h1v1h-1zM46,27h1v1h-1zM57,27h1v1h-1zM61,27h1v1h-1zM11,28h1v1h-1zM28,28h1v1h-1zM30,28h1v1h-1zM17,29h1v1h-1zM18,29h1v1h-1zM32,29h1v1h-1zM48,29h1v1h-1zM49,29h1v1h-1zM52,29h1v1h-1zM53,29h1v1h-1zM63,29h1v1h-1zM11,30h1v1h-1zM14,30h1v1h-1zM20,30h1v1h-1zM21,30h1v1h-1zM25,30h1v1h-1zM31,30h1v1h-1zM44,30h1v1h-1zM45,30h1v1h-1zM47,30h1v1h-1zM51,30h1v1h-1zM62,30h1v1h-1zM63,30h1v1h-1zM21,31h1v1h-1zM34,31h1v1h-1zM38,31h1v1h-1zM60,31h1v1h-1zM1,32h1v1h-1zM7,32h1v1h-1zM11,32h1v1h-1zM16,32h1v1h-1zM20,32h1v1h-1zM27,32h1v1h-1zM38,32h1v1h-1zM50,32h1v1h-1zM53,32h1v1h-1zM64,32h1v1h-1zM11,33h1v1h-1zM12,33h1v1h-1zM16,33h1v1h-1zM18,33h1v1h-1zM38,33h1v1h-1zM45,33h1v1h-1zM62,33h1v1h-1zM0,34h1v1h-1zM15,34h1v1h-1zM16,34h1v1h-1zM19,34h1v1h-1zM47,34h1v1h-1zM49,34h1v1h-1zM60,34h1v1h-1zM65,34h1v1h-1zM14,35h1v1h-1zM31,35h1v1h-1zM39,35h1v1h-1zM45,35h1v1h-1zM47,35h1v1h-1zM49,35h1v1h-1zM56,35h1v1h-1zM9,36h1v1h-1zM10,36h1v1h-1zM30,36h1v1h-1zM34,36h1v1h-1zM40,36h1v1h-1zM48,36h1v1h-1zM51,36h1v1h-1zM54,36h1v1h-1zM59,36h1v1h-1zM4,37h1v1h-1zM10,37h1v1h-1zM11,37h1v1h-1zM12,37h1v1h-1zM13,37h1v1h-1zM16,37h1v1h-1zM17,37h1v1h-1zM21,37h1v1h-1zM39,37h1v1h-1zM45,37h1v1h-1zM66,37h1v1h-1zM11,38h1v1h-1zM12,38h1v1h-1zM37,38h1v1h-1zM40,38h1v1h-1zM58,38h1v1h-1zM66,38h1v1h-1zM9,39h1v1h-1zM11,39h1v1h-1zM18,39h1v1h-1zM20,39h1v1h-1zM32,39h1v1h-1zM38,39h1v1h-1zM46,39h1v1h-1zM47,39h1v1h-1zM48,39h1v1h-1zM52,39h1v1h-1zM12,40h1v1h-1zM14,40h1v1h-1zM20,40h1v1h-1zM28,40h1v1h-1zM34,40h1v1h-1zM36,40h1v1h-1zM38,40h1v1h-1zM40,40h1v1h-1zM52,40h1v1h-1zM62,40h1v1h-1zM65,40h1v1h-1zM6,41h1v1h-1zM14,41h1v1h-1zM26,41h1v1h-1zM32,41h1v1h-1zM50,41h1v1h-1zM53,41h1v1h-1zM56,41h1v1h-1zM60,41h1v1h-1zM1,42h1v1h-1zM3,42h1v1h-1zM6,42h1v1h-1zM8,42h1v1h-1zM10,42h1v1h-1zM12,42h1v1h-1zM23,42h1v1h-1zM36,42h1v1h-1zM42,42h1v1h-1zM53,42h1v1h-1zM56,42h1v1h-1zM6,43h1v1h-1zM13,43h1v1h-1zM15,43h1v1h-1zM19,43h1v1h-1zM20,43h1v1h-1zM27,43h1v1h-1zM12,44h1v1h-1zM16,44h1v1h-1zM23,44h1v1h-1zM31,44h1v1h-1zM34,44h1v1h-1zM36,44h1v1h-1zM41,44h1v1h-1zM55,44h1v1h-1zM63,44h1v1h-1zM19,45h1v1h-1zM20,45h1v1h-1zM22,45h1v1h-1zM26,45h1v1h-1zM36,45h1v1h-1zM49,45h1v1h-1zM4,46h1v1h-1zM5,46h1v1h-1zM6,46h1v1h-1zM15,46h1v1h-1zM22,46h1v1h-1zM27,46h1v1h-1zM29,46h1v1h-1zM56,46h1v1h-1zM58,46h1v1h-1zM60,46h1v1h-1zM3,47h1v1h-1zM8,47h1v1h-1zM34,47h1v1h-1zM55,47h1v1h-1zM57,47h1v1h-1zM58,47h1v1h-1zM62,47h1v1h-1zM4,48h1v1h-1zM8,48h1v1h-1zM11,48h1v1h-1zM29,48h1v1h-1zM35,48h1v1h-1zM49,48h1v1h-1zM59,48h1v1h-1zM63,48h1v1h-1zM0,49h1v1h-1zM3,49h1v1h-1zM4,49h1v1h-1zM16,49h1v1h-1zM17,49h1v1h-1zM26,49h1v1h-1zM49,49h1v1h-1zM52,49h1v1h-1zM55,49h1v1h-1zM57,49h1v1h-1zM3,50h1v1h-1zM4,50h1v1h-1zM6,50h1v1h-1zM15,50h1v1h-1zM25,50h1v1h-1zM29,50h1v1h-1zM36,50h1v1h-1zM42,50h1v1h-1zM44,50h1v1h-1zM45,50h1v1h-1zM50,50h1v1h-1zM51,50h1v1h-1zM52,50h1v1h-1zM55,50h1v1h-1zM56,50h1v1h-1zM2,51h1v1h-1zM19,51h1v1h-1zM26,51h1v1h-1zM27,51h1v1h-1zM48,51h1v1h-1zM15,52h1v1h-1zM36,52h1v1h-1zM52,52h1v1h-1zM55,52h1v1h-1zM58,52h1v1h-1zM59,52h1v1h-1z" fill="#DCE6DC"/>
</g>
<rect x="8.9" y="383.8" width="67.3" height="53.2" fill="none" stroke="#2a2a2a" stroke-width="1.1"/>
<rect x="78.7" y="383.8" width="67.1" height="53.6" fill="#EBF0E2" />
<g transform="translate(78.7,383.8)">
<path d="M9,2h1v1h-1zM19,2h1v1h-1zM59,3h1v1h-1zM65,5h1v1h-1zM48,6h1v1h-1zM34,11h1v1h-1zM55,11h1v1h-1zM35,12h1v1h-1zM9,13h1v1h-1zM40,13h1v1h-1zM6,15h1v1h-1zM52,16h1v1h-1zM56,16h1v1h-1zM16,17h1v1h-1zM25,17h1v1h-1zM29,18h1v1h-1zM53,18h1v1h-1zM26,19h1v1h-1zM51,21h1v1h-1zM13,22h1v1h-1zM41,25h1v1h-1zM48,25h1v1h-1zM48,26h1v1h-1zM23,27h1v1h-1zM27,28h1v1h-1zM66,28h1v1h-1zM60,34h1v1h-1zM31,35h1v1h-1zM13,36h1v1h-1zM36,37h1v1h-1zM53,37h1v1h-1zM60,37h1v1h-1zM10,38h1v1h-1zM56,40h1v1h-1zM33,41h1v1h-1zM24,43h1v1h-1zM43,45h1v1h-1zM57,46h1v1h-1zM61,48h1v1h-1zM24,49h1v1h-1zM1,50h1v1h-1zM19,50h1v1h-1z" fill="#8E9CE0"/>
<path d="M11,0h1v1h-1zM34,0h1v1h-1zM36,0h1v1h-1zM2,1h1v1h-1zM8,1h1v1h-1zM27,1h1v1h-1zM35,1h1v1h-1zM54,1h1v1h-1zM64,1h1v1h-1zM2,2h1v1h-1zM5,2h1v1h-1zM7,2h1v1h-1zM56,2h1v1h-1zM62,2h1v1h-1zM13,3h1v1h-1zM16,3h1v1h-1zM31,3h1v1h-1zM39,3h1v1h-1zM1,4h1v1h-1zM35,4h1v1h-1zM47,4h1v1h-1zM1,5h1v1h-1zM14,5h1v1h-1zM39,5h1v1h-1zM45,5h1v1h-1zM60,5h1v1h-1zM4,6h1v1h-1zM59,6h1v1h-1zM61,6h1v1h-1zM6,7h1v1h-1zM8,8h1v1h-1zM13,8h1v1h-1zM14,9h1v1h-1zM23,9h1v1h-1zM58,9h1v1h-1zM17,10h1v1h-1zM40,10h1v1h-1zM62,11h1v1h-1zM63,11h1v1h-1zM2,12h1v1h-1zM10,12h1v1h-1zM28,12h1v1h-1zM26,13h1v1h-1zM29,13h1v1h-1zM54,13h1v1h-1zM59,13h1v1h-1zM8,14h1v1h-1zM12,14h1v1h-1zM30,14h1v1h-1zM41,14h1v1h-1zM34,15h1v1h-1zM5,16h1v1h-1zM7,16h1v1h-1zM9,16h1v1h-1zM26,16h1v1h-1zM29,16h1v1h-1zM47,16h1v1h-1zM0,17h1v1h-1zM22,17h1v1h-1zM33,17h1v1h-1zM39,17h1v1h-1zM44,17h1v1h-1zM46,17h1v1h-1zM24,18h1v1h-1zM1,19h1v1h-1zM10,19h1v1h-1zM40,19h1v1h-1zM54,19h1v1h-1zM55,19h1v1h-1zM0,20h1v1h-1zM43,20h1v1h-1zM10,21h1v1h-1zM12,21h1v1h-1zM35,21h1v1h-1zM22,22h1v1h-1zM47,22h1v1h-1zM52,22h1v1h-1zM60,22h1v1h-1zM16,23h1v1h-1zM21,23h1v1h-1zM34,23h1v1h-1zM51,23h1v1h-1zM19,24h1v1h-1zM49,24h1v1h-1zM18,25h1v1h-1zM46,25h1v1h-1zM3,26h1v1h-1zM46,26h1v1h-1zM6,27h1v1h-1zM26,27h1v1h-1zM45,27h1v1h-1zM51,27h1v1h-1zM59,27h1v1h-1zM60,27h1v1h-1zM13,28h1v1h-1zM53,28h1v1h-1zM24,29h1v1h-1zM42,29h1v1h-1zM0,30h1v1h-1zM3,30h1v1h-1zM26,31h1v1h-1zM44,31h1v1h-1zM48,31h1v1h-1zM50,31h1v1h-1zM60,31h1v1h-1zM31,32h1v1h-1zM47,32h1v1h-1zM52,32h1v1h-1zM4,33h1v1h-1zM58,33h1v1h-1zM4,34h1v1h-1zM62,35h1v1h-1zM54,36h1v1h-1zM38,37h1v1h-1zM54,38h1v1h-1zM65,38h1v1h-1zM29,39h1v1h-1zM35,39h1v1h-1zM38,39h1v1h-1zM40,39h1v1h-1zM43,39h1v1h-1zM52,39h1v1h-1zM53,39h1v1h-1zM3,40h1v1h-1zM9,40h1v1h-1zM41,40h1v1h-1zM5,41h1v1h-1zM52,41h1v1h-1zM55,41h1v1h-1zM65,41h1v1h-1zM8,42h1v1h-1zM23,42h1v1h-1zM39,42h1v1h-1zM62,42h1v1h-1zM14,43h1v1h-1zM50,43h1v1h-1zM51,43h1v1h-1zM0,44h1v1h-1zM50,44h1v1h-1zM52,44h1v1h-1zM56,44h1v1h-1zM2,45h1v1h-1zM9,45h1v1h-1zM28,45h1v1h-1zM57,45h1v1h-1zM29,46h1v1h-1zM1,47h1v1h-1zM37,47h1v1h-1zM51,47h1v1h-1zM59,47h1v1h-1zM21,48h1v1h-1zM29,48h1v1h-1zM17,50h1v1h-1zM56,50h1v1h-1zM6,51h1v1h-1zM12,51h1v1h-1zM19,51h1v1h-1zM39,51h1v1h-1zM60,51h1v1h-1zM63,52h1v1h-1z" fill="#B4BFE8"/>
<path d="M30,0h1v1h-1zM52,0h1v1h-1zM61,0h1v1h-1zM63,0h1v1h-1zM6,1h1v1h-1zM38,1h1v1h-1zM51,1h1v1h-1zM66,1h1v1h-1zM15,2h1v1h-1zM31,2h1v1h-1zM45,2h1v1h-1zM61,2h1v1h-1zM63,2h1v1h-1zM18,3h1v1h-1zM35,3h1v1h-1zM38,3h1v1h-1zM42,3h1v1h-1zM46,3h1v1h-1zM53,3h1v1h-1zM60,3h1v1h-1zM61,3h1v1h-1zM64,3h1v1h-1zM11,4h1v1h-1zM33,4h1v1h-1zM39,4h1v1h-1zM54,4h1v1h-1zM57,4h1v1h-1zM58,4h1v1h-1zM65,4h1v1h-1zM66,4h1v1h-1zM2,5h1v1h-1zM3,5h1v1h-1zM17,5h1v1h-1zM29,5h1v1h-1zM55,5h1v1h-1zM58,5h1v1h-1zM5,6h1v1h-1zM9,6h1v1h-1zM11,6h1v1h-1zM15,6h1v1h-1zM31,6h1v1h-1zM37,6h1v1h-1zM42,6h1v1h-1zM55,6h1v1h-1zM60,6h1v1h-1zM0,7h1v1h-1zM10,7h1v1h-1zM13,7h1v1h-1zM14,7h1v1h-1zM20,7h1v1h-1zM28,7h1v1h-1zM33,7h1v1h-1zM46,7h1v1h-1zM52,7h1v1h-1zM20,8h1v1h-1zM25,8h1v1h-1zM26,8h1v1h-1zM27,8h1v1h-1zM32,8h1v1h-1zM34,8h1v1h-1zM35,8h1v1h-1zM3,9h1v1h-1zM8,9h1v1h-1zM17,9h1v1h-1zM22,9h1v1h-1zM39,9h1v1h-1zM60,9h1v1h-1zM64,9h1v1h-1zM9,10h1v1h-1zM11,10h1v1h-1zM21,10h1v1h-1zM22,10h1v1h-1zM43,10h1v1h-1zM48,10h1v1h-1zM59,10h1v1h-1zM3,11h1v1h-1zM7,11h1v1h-1zM15,11h1v1h-1zM22,11h1v1h-1zM35,11h1v1h-1zM38,11h1v1h-1zM41,11h1v1h-1zM58,11h1v1h-1zM59,11h1v1h-1zM11,12h1v1h-1zM12,12h1v1h-1zM36,12h1v1h-1zM59,12h1v1h-1zM60,12h1v1h-1zM65,12h1v1h-1zM3,13h1v1h-1zM5,13h1v1h-1zM24,13h1v1h-1zM37,13h1v1h-1zM46,13h1v1h-1zM56,13h1v1h-1zM1,14h1v1h-1zM11,14h1v1h-1zM16,14h1v1h-1zM35,14h1v1h-1zM45,14h1v1h-1zM52,14h1v1h-1zM58,14h1v1h-1zM14,15h1v1h-1zM24,15h1v1h-1zM28,15h1v1h-1zM53,15h1v1h-1zM64,15h1v1h-1zM10,16h1v1h-1zM28,16h1v1h-1zM2,17h1v1h-1zM7,17h1v1h-1zM23,17h1v1h-1zM26,17h1v1h-1zM30,17h1v1h-1zM42,17h1v1h-1zM47,17h1v1h-1zM48,17h1v1h-1zM53,17h1v1h-1zM54,17h1v1h-1zM0,18h1v1h-1zM15,19h1v1h-1zM17,19h1v1h-1zM38,19h1v1h-1zM53,19h1v1h-1zM58,19h1v1h-1zM3,20h1v1h-1zM17,20h1v1h-1zM19,20h1v1h-1zM21,20h1v1h-1zM23,20h1v1h-1zM44,20h1v1h-1zM46,20h1v1h-1zM47,20h1v1h-1zM55,20h1v1h-1zM56,20h1v1h-1zM61,20h1v1h-1zM64,20h1v1h-1zM2,21h1v1h-1zM8,21h1v1h-1zM28,21h1v1h-1zM43,21h1v1h-1zM49,21h1v1h-1zM50,21h1v1h-1zM53,21h1v1h-1zM55,21h1v1h-1zM56,21h1v1h-1zM60,21h1v1h-1zM11,22h1v1h-1zM34,22h1v1h-1zM49,22h1v1h-1zM54,22h1v1h-1zM59,22h1v1h-1zM9,23h1v1h-1zM10,23h1v1h-1zM29,23h1v1h-1zM36,23h1v1h-1zM42,23h1v1h-1zM52,23h1v1h-1zM57,23h1v1h-1zM62,23h1v1h-1zM2,24h1v1h-1zM6,24h1v1h-1zM7,24h1v1h-1zM10,24h1v1h-1zM21,24h1v1h-1zM34,24h1v1h-1zM51,24h1v1h-1zM53,24h1v1h-1zM62,24h1v1h-1zM9,25h1v1h-1zM51,25h1v1h-1zM52,25h1v1h-1zM58,25h1v1h-1zM64,25h1v1h-1zM66,25h1v1h-1zM10,26h1v1h-1zM32,26h1v1h-1zM45,26h1v1h-1zM49,26h1v1h-1zM50,26h1v1h-1zM64,26h1v1h-1zM13,27h1v1h-1zM22,27h1v1h-1zM42,27h1v1h-1zM49,27h1v1h-1zM52,27h1v1h-1zM12,28h1v1h-1zM21,28h1v1h-1zM49,28h1v1h-1zM55,28h1v1h-1zM58,28h1v1h-1zM62,28h1v1h-1zM63,28h1v1h-1zM4,29h1v1h-1zM15,29h1v1h-1zM22,29h1v1h-1zM36,29h1v1h-1zM53,29h1v1h-1zM7,30h1v1h-1zM18,30h1v1h-1zM33,30h1v1h-1zM35,30h1v1h-1zM42,30h1v1h-1zM47,30h1v1h-1zM50,30h1v1h-1zM51,30h1v1h-1zM53,30h1v1h-1zM58,30h1v1h-1zM63,30h1v1h-1zM6,31h1v1h-1zM8,31h1v1h-1zM15,31h1v1h-1zM42,31h1v1h-1zM46,31h1v1h-1zM53,31h1v1h-1zM0,32h1v1h-1zM1,32h1v1h-1zM10,32h1v1h-1zM33,32h1v1h-1zM37,32h1v1h-1zM39,32h1v1h-1zM42,32h1v1h-1zM54,32h1v1h-1zM66,32h1v1h-1zM5,33h1v1h-1zM16,33h1v1h-1zM33,33h1v1h-1zM34,33h1v1h-1zM44,33h1v1h-1zM59,33h1v1h-1zM61,33h1v1h-1zM3,34h1v1h-1zM18,34h1v1h-1zM33,34h1v1h-1zM47,34h1v1h-1zM56,34h1v1h-1zM57,34h1v1h-1zM58,34h1v1h-1zM64,34h1v1h-1zM1,35h1v1h-1zM10,35h1v1h-1zM17,35h1v1h-1zM24,35h1v1h-1zM37,35h1v1h-1zM41,35h1v1h-1zM57,35h1v1h-1zM1,36h1v1h-1zM8,36h1v1h-1zM9,36h1v1h-1zM35,36h1v1h-1zM36,36h1v1h-1zM50,36h1v1h-1zM4,37h1v1h-1zM12,37h1v1h-1zM33,37h1v1h-1zM34,37h1v1h-1zM41,37h1v1h-1zM48,37h1v1h-1zM57,37h1v1h-1zM62,37h1v1h-1zM13,38h1v1h-1zM40,38h1v1h-1zM41,38h1v1h-1zM50,38h1v1h-1zM63,38h1v1h-1zM7,39h1v1h-1zM28,39h1v1h-1zM62,39h1v1h-1zM65,39h1v1h-1zM1,40h1v1h-1zM32,40h1v1h-1zM36,40h1v1h-1zM42,40h1v1h-1zM18,41h1v1h-1zM43,41h1v1h-1zM44,41h1v1h-1zM45,41h1v1h-1zM57,41h1v1h-1zM2,42h1v1h-1zM35,42h1v1h-1zM1,43h1v1h-1zM10,43h1v1h-1zM22,43h1v1h-1zM31,43h1v1h-1zM33,43h1v1h-1zM35,43h1v1h-1zM36,43h1v1h-1zM40,43h1v1h-1zM59,43h1v1h-1zM60,43h1v1h-1zM61,43h1v1h-1zM66,43h1v1h-1zM7,44h1v1h-1zM17,44h1v1h-1zM22,44h1v1h-1zM32,44h1v1h-1zM48,44h1v1h-1zM1,45h1v1h-1zM31,45h1v1h-1zM37,45h1v1h-1zM54,45h1v1h-1zM66,45h1v1h-1zM12,46h1v1h-1zM22,46h1v1h-1zM33,46h1v1h-1zM56,46h1v1h-1zM6,47h1v1h-1zM11,47h1v1h-1zM23,47h1v1h-1zM36,47h1v1h-1zM38,47h1v1h-1zM41,47h1v1h-1zM44,47h1v1h-1zM45,47h1v1h-1zM52,47h1v1h-1zM60,47h1v1h-1zM17,48h1v1h-1zM32,48h1v1h-1zM46,48h1v1h-1zM48,48h1v1h-1zM54,48h1v1h-1zM58,48h1v1h-1zM11,49h1v1h-1zM14,49h1v1h-1zM15,49h1v1h-1zM20,49h1v1h-1zM22,49h1v1h-1zM25,49h1v1h-1zM33,49h1v1h-1zM46,49h1v1h-1zM60,49h1v1h-1zM21,50h1v1h-1zM44,50h1v1h-1zM48,50h1v1h-1zM22,51h1v1h-1zM28,51h1v1h-1zM30,51h1v1h-1zM40,51h1v1h-1zM43,51h1v1h-1zM45,51h1v1h-1zM22,52h1v1h-1zM24,52h1v1h-1zM35,52h1v1h-1zM45,52h1v1h-1zM50,52h1v1h-1zM53,52h1v1h-1z" fill="#CDD5EA"/>
<path d="M3,0h1v1h-1zM5,0h1v1h-1zM14,0h1v1h-1zM15,0h1v1h-1zM33,0h1v1h-1zM65,0h1v1h-1zM66,0h1v1h-1zM1,1h1v1h-1zM9,1h1v1h-1zM31,1h1v1h-1zM34,1h1v1h-1zM39,1h1v1h-1zM40,1h1v1h-1zM42,1h1v1h-1zM44,1h1v1h-1zM55,1h1v1h-1zM61,1h1v1h-1zM62,1h1v1h-1zM63,1h1v1h-1zM13,2h1v1h-1zM22,2h1v1h-1zM29,2h1v1h-1zM30,2h1v1h-1zM37,2h1v1h-1zM43,2h1v1h-1zM44,2h1v1h-1zM50,2h1v1h-1zM3,3h1v1h-1zM10,3h1v1h-1zM11,3h1v1h-1zM12,3h1v1h-1zM15,3h1v1h-1zM21,3h1v1h-1zM34,3h1v1h-1zM36,3h1v1h-1zM37,3h1v1h-1zM58,3h1v1h-1zM4,4h1v1h-1zM5,4h1v1h-1zM8,4h1v1h-1zM9,4h1v1h-1zM12,4h1v1h-1zM16,4h1v1h-1zM19,4h1v1h-1zM31,4h1v1h-1zM37,4h1v1h-1zM43,4h1v1h-1zM50,4h1v1h-1zM53,4h1v1h-1zM60,4h1v1h-1zM62,4h1v1h-1zM8,5h1v1h-1zM9,5h1v1h-1zM11,5h1v1h-1zM15,5h1v1h-1zM24,5h1v1h-1zM33,5h1v1h-1zM36,5h1v1h-1zM37,5h1v1h-1zM44,5h1v1h-1zM46,5h1v1h-1zM57,5h1v1h-1zM59,5h1v1h-1zM62,5h1v1h-1zM6,6h1v1h-1zM10,6h1v1h-1zM12,6h1v1h-1zM13,6h1v1h-1zM17,6h1v1h-1zM24,6h1v1h-1zM35,6h1v1h-1zM36,6h1v1h-1zM38,6h1v1h-1zM41,6h1v1h-1zM45,6h1v1h-1zM57,6h1v1h-1zM58,6h1v1h-1zM63,6h1v1h-1zM66,6h1v1h-1zM7,7h1v1h-1zM9,7h1v1h-1zM11,7h1v1h-1zM18,7h1v1h-1zM32,7h1v1h-1zM65,7h1v1h-1zM66,7h1v1h-1zM7,8h1v1h-1zM15,8h1v1h-1zM21,8h1v1h-1zM22,8h1v1h-1zM23,8h1v1h-1zM46,8h1v1h-1zM53,8h1v1h-1zM57,8h1v1h-1zM58,8h1v1h-1zM59,8h1v1h-1zM60,8h1v1h-1zM61,8h1v1h-1zM62,8h1v1h-1zM63,8h1v1h-1zM64,8h1v1h-1zM13,9h1v1h-1zM21,9h1v1h-1zM34,9h1v1h-1zM49,9h1v1h-1zM56,9h1v1h-1zM66,9h1v1h-1zM2,10h1v1h-1zM54,10h1v1h-1zM6,11h1v1h-1zM12,11h1v1h-1zM18,11h1v1h-1zM24,11h1v1h-1zM30,11h1v1h-1zM45,11h1v1h-1zM48,11h1v1h-1zM65,11h1v1h-1zM4,12h1v1h-1zM7,12h1v1h-1zM8,12h1v1h-1zM14,12h1v1h-1zM17,12h1v1h-1zM26,12h1v1h-1zM31,12h1v1h-1zM32,12h1v1h-1zM37,12h1v1h-1zM56,12h1v1h-1zM63,12h1v1h-1zM11,13h1v1h-1zM16,13h1v1h-1zM18,13h1v1h-1zM19,13h1v1h-1zM21,13h1v1h-1zM48,13h1v1h-1zM50,13h1v1h-1zM55,13h1v1h-1zM66,13h1v1h-1zM19,14h1v1h-1zM23,14h1v1h-1zM64,14h1v1h-1zM66,14h1v1h-1zM0,15h1v1h-1zM12,15h1v1h-1zM25,15h1v1h-1zM30,15h1v1h-1zM31,15h1v1h-1zM42,15h1v1h-1zM54,15h1v1h-1zM58,15h1v1h-1zM59,15h1v1h-1zM4,16h1v1h-1zM6,16h1v1h-1zM12,16h1v1h-1zM40,16h1v1h-1zM43,16h1v1h-1zM49,16h1v1h-1zM50,16h1v1h-1zM53,16h1v1h-1zM62,16h1v1h-1zM1,17h1v1h-1zM5,17h1v1h-1zM45,17h1v1h-1zM55,17h1v1h-1zM15,18h1v1h-1zM32,18h1v1h-1zM33,18h1v1h-1zM34,18h1v1h-1zM36,18h1v1h-1zM38,18h1v1h-1zM47,18h1v1h-1zM52,18h1v1h-1zM58,18h1v1h-1zM59,18h1v1h-1zM60,18h1v1h-1zM63,18h1v1h-1zM66,18h1v1h-1zM9,19h1v1h-1zM13,19h1v1h-1zM14,19h1v1h-1zM16,19h1v1h-1zM21,19h1v1h-1zM51,19h1v1h-1zM62,19h1v1h-1zM65,19h1v1h-1zM4,20h1v1h-1zM5,20h1v1h-1zM6,20h1v1h-1zM15,20h1v1h-1zM18,20h1v1h-1zM27,20h1v1h-1zM29,20h1v1h-1zM52,20h1v1h-1zM62,20h1v1h-1zM0,21h1v1h-1zM4,21h1v1h-1zM16,21h1v1h-1zM19,21h1v1h-1zM52,21h1v1h-1zM5,22h1v1h-1zM14,22h1v1h-1zM28,22h1v1h-1zM44,22h1v1h-1zM51,22h1v1h-1zM66,22h1v1h-1zM2,23h1v1h-1zM11,23h1v1h-1zM24,23h1v1h-1zM27,23h1v1h-1zM32,23h1v1h-1zM38,23h1v1h-1zM39,23h1v1h-1zM41,23h1v1h-1zM43,23h1v1h-1zM49,23h1v1h-1zM55,23h1v1h-1zM0,24h1v1h-1zM12,24h1v1h-1zM15,24h1v1h-1zM26,24h1v1h-1zM28,24h1v1h-1zM33,24h1v1h-1zM35,24h1v1h-1zM38,24h1v1h-1zM44,24h1v1h-1zM63,24h1v1h-1zM0,25h1v1h-1zM7,25h1v1h-1zM12,25h1v1h-1zM13,25h1v1h-1zM16,25h1v1h-1zM17,25h1v1h-1zM25,25h1v1h-1zM28,25h1v1h-1zM32,25h1v1h-1zM33,25h1v1h-1zM44,25h1v1h-1zM54,25h1v1h-1zM59,25h1v1h-1zM0,26h1v1h-1zM1,26h1v1h-1zM4,26h1v1h-1zM6,26h1v1h-1zM18,26h1v1h-1zM29,26h1v1h-1zM31,26h1v1h-1zM34,26h1v1h-1zM42,26h1v1h-1zM56,26h1v1h-1zM58,26h1v1h-1zM59,26h1v1h-1zM18,27h1v1h-1zM33,27h1v1h-1zM39,27h1v1h-1zM48,27h1v1h-1zM58,27h1v1h-1zM14,28h1v1h-1zM15,28h1v1h-1zM16,28h1v1h-1zM31,28h1v1h-1zM48,28h1v1h-1zM51,28h1v1h-1zM54,28h1v1h-1zM59,28h1v1h-1zM61,28h1v1h-1zM5,29h1v1h-1zM9,29h1v1h-1zM12,29h1v1h-1zM16,29h1v1h-1zM20,29h1v1h-1zM47,29h1v1h-1zM48,29h1v1h-1zM55,29h1v1h-1zM56,29h1v1h-1zM59,29h1v1h-1zM60,29h1v1h-1zM4,30h1v1h-1zM8,30h1v1h-1zM25,30h1v1h-1zM37,30h1v1h-1zM40,30h1v1h-1zM41,30h1v1h-1zM49,30h1v1h-1zM55,30h1v1h-1zM62,30h1v1h-1zM0,31h1v1h-1zM1,31h1v1h-1zM3,31h1v1h-1zM5,31h1v1h-1zM22,31h1v1h-1zM33,31h1v1h-1zM35,31h1v1h-1zM47,31h1v1h-1zM54,31h1v1h-1zM55,31h1v1h-1zM57,31h1v1h-1zM6,32h1v1h-1zM8,32h1v1h-1zM13,32h1v1h-1zM30,32h1v1h-1zM35,32h1v1h-1zM36,32h1v1h-1zM43,32h1v1h-1zM48,32h1v1h-1zM59,32h1v1h-1zM60,32h1v1h-1zM63,32h1v1h-1zM6,33h1v1h-1zM8,33h1v1h-1zM30,33h1v1h-1zM31,33h1v1h-1zM32,33h1v1h-1zM42,33h1v1h-1zM51,33h1v1h-1zM53,33h1v1h-1zM60,33h1v1h-1zM64,33h1v1h-1zM66,33h1v1h-1zM26,34h1v1h-1zM36,34h1v1h-1zM45,34h1v1h-1zM59,34h1v1h-1zM61,34h1v1h-1zM2,35h1v1h-1zM33,35h1v1h-1zM34,35h1v1h-1zM38,35h1v1h-1zM40,35h1v1h-1zM59,35h1v1h-1zM61,35h1v1h-1zM65,35h1v1h-1zM2,36h1v1h-1zM6,36h1v1h-1zM7,36h1v1h-1zM10,36h1v1h-1zM14,36h1v1h-1zM33,36h1v1h-1zM41,36h1v1h-1zM42,36h1v1h-1zM52,36h1v1h-1zM56,36h1v1h-1zM60,36h1v1h-1zM11,37h1v1h-1zM20,37h1v1h-1zM28,37h1v1h-1zM30,37h1v1h-1zM32,37h1v1h-1zM37,37h1v1h-1zM39,37h1v1h-1zM43,37h1v1h-1zM51,37h1v1h-1zM55,37h1v1h-1zM64,37h1v1h-1zM65,37h1v1h-1zM6,38h1v1h-1zM9,38h1v1h-1zM15,38h1v1h-1zM30,38h1v1h-1zM33,38h1v1h-1zM37,38h1v1h-1zM38,38h1v1h-1zM2,39h1v1h-1zM4,39h1v1h-1zM6,39h1v1h-1zM19,39h1v1h-1zM31,39h1v1h-1zM33,39h1v1h-1zM34,39h1v1h-1zM48,39h1v1h-1zM23,40h1v1h-1zM29,40h1v1h-1zM31,40h1v1h-1zM33,40h1v1h-1zM34,40h1v1h-1zM35,40h1v1h-1zM38,40h1v1h-1zM40,40h1v1h-1zM60,40h1v1h-1zM61,40h1v1h-1zM65,40h1v1h-1zM9,41h1v1h-1zM26,41h1v1h-1zM37,41h1v1h-1zM38,41h1v1h-1zM39,41h1v1h-1zM41,41h1v1h-1zM47,41h1v1h-1zM48,41h1v1h-1zM49,41h1v1h-1zM61,41h1v1h-1zM3,42h1v1h-1zM9,42h1v1h-1zM10,42h1v1h-1zM32,42h1v1h-1zM37,42h1v1h-1zM40,42h1v1h-1zM45,42h1v1h-1zM55,42h1v1h-1zM56,42h1v1h-1zM61,42h1v1h-1zM64,42h1v1h-1zM0,43h1v1h-1zM21,43h1v1h-1zM26,43h1v1h-1zM28,43h1v1h-1zM29,43h1v1h-1zM47,43h1v1h-1zM52,43h1v1h-1zM55,43h1v1h-1zM62,43h1v1h-1zM1,44h1v1h-1zM28,44h1v1h-1zM6,45h1v1h-1zM7,45h1v1h-1zM10,45h1v1h-1zM20,45h1v1h-1zM41,45h1v1h-1zM61,45h1v1h-1zM17,46h1v1h-1zM18,46h1v1h-1zM31,46h1v1h-1zM35,46h1v1h-1zM36,46h1v1h-1zM42,46h1v1h-1zM45,46h1v1h-1zM46,46h1v1h-1zM61,46h1v1h-1zM0,47h1v1h-1zM7,47h1v1h-1zM18,47h1v1h-1zM22,47h1v1h-1zM26,47h1v1h-1zM33,47h1v1h-1zM34,47h1v1h-1zM39,47h1v1h-1zM48,47h1v1h-1zM57,47h1v1h-1zM9,48h1v1h-1zM15,48h1v1h-1zM28,48h1v1h-1zM36,48h1v1h-1zM37,48h1v1h-1zM38,48h1v1h-1zM60,48h1v1h-1zM1,49h1v1h-1zM4,49h1v1h-1zM21,49h1v1h-1zM26,49h1v1h-1zM31,49h1v1h-1zM38,49h1v1h-1zM40,49h1v1h-1zM41,49h1v1h-1zM42,49h1v1h-1zM54,49h1v1h-1zM61,49h1v1h-1zM0,50h1v1h-1zM4,50h1v1h-1zM24,50h1v1h-1zM35,50h1v1h-1zM37,50h1v1h-1zM43,50h1v1h-1zM46,50h1v1h-1zM49,50h1v1h-1zM50,50h1v1h-1zM65,50h1v1h-1zM1,51h1v1h-1zM13,51h1v1h-1zM14,51h1v1h-1zM17,51h1v1h-1zM18,51h1v1h-1zM52,51h1v1h-1zM56,51h1v1h-1zM66,51h1v1h-1zM0,52h1v1h-1zM7,52h1v1h-1zM14,52h1v1h-1zM21,52h1v1h-1zM23,52h1v1h-1zM27,52h1v1h-1zM30,52h1v1h-1zM37,52h1v1h-1zM46,52h1v1h-1zM47,52h1v1h-1zM49,52h1v1h-1zM54,52h1v1h-1z" fill="#DDE6D8"/>
</g>
<rect x="78.7" y="383.8" width="67.1" height="53.6" fill="none" stroke="#2a2a2a" stroke-width="1.1"/>
<text transform="translate(154.7,405.3) rotate(-90)" x="0" y="1.6" font-size="4.5" fill="#222" text-anchor="middle" font-weight="bold">Number of migrated cells</text>
<line x1="168.1" y1="374.5" x2="168.1" y2="431.4" stroke="#333" stroke-width="0.9"/>
<line x1="168.1" y1="431.3" x2="205" y2="431.3" stroke="#333" stroke-width="0.9"/>
<line x1="166.4" y1="374.5" x2="168.1" y2="374.5" stroke="#333" stroke-width="0.7"/>
<text x="165.8" y="376.1" font-size="4.4" fill="#222" text-anchor="end" font-weight="bold" >200</text>
<line x1="166.4" y1="388.7" x2="168.1" y2="388.7" stroke="#333" stroke-width="0.7"/>
<text x="165.8" y="390.3" font-size="4.4" fill="#222" text-anchor="end" font-weight="bold" >150</text>
<line x1="166.4" y1="403" x2="168.1" y2="403" stroke="#333" stroke-width="0.7"/>
<text x="165.8" y="404.6" font-size="4.4" fill="#222" text-anchor="end" font-weight="bold" >100</text>
<line x1="166.4" y1="417.2" x2="168.1" y2="417.2" stroke="#333" stroke-width="0.7"/>
<text x="165.8" y="418.8" font-size="4.4" fill="#222" text-anchor="end" font-weight="bold" >50</text>
<line x1="166.4" y1="431.3" x2="168.1" y2="431.3" stroke="#333" stroke-width="0.7"/>
<text x="165.8" y="432.9" font-size="4.4" fill="#222" text-anchor="end" font-weight="bold" >0</text>
<rect x="175" y="394" width="10.5" height="37.3" fill="#A3473D" />
<line x1="180.2" y1="384.2" x2="180.2" y2="394" stroke="#C06050" stroke-width="0.6"/>
<line x1="177.5" y1="384.2" x2="183" y2="384.2" stroke="#C06050" stroke-width="0.6"/>
<rect x="190.8" y="423.6" width="11.1" height="7.7" fill="#3E5CA9" />
<line x1="196.3" y1="421.3" x2="196.3" y2="423.6" stroke="#6078C0" stroke-width="0.6"/>
<line x1="193.8" y1="421.3" x2="199" y2="421.3" stroke="#6078C0" stroke-width="0.6"/>
<line x1="179.5" y1="380.4" x2="196.5" y2="380.4" stroke="#222" stroke-width="1.1"/>
<circle cx="188.3" cy="377.3" r="1.1" fill="#1a1a1a"/>
<line x1="180.2" y1="431.3" x2="180.2" y2="432.8" stroke="#333" stroke-width="0.7"/>
<line x1="196.3" y1="431.3" x2="196.3" y2="432.8" stroke="#333" stroke-width="0.7"/>
<text x="180.2" y="438.6" font-size="4.5" fill="#222" text-anchor="middle" font-weight="bold" >NC</text>
<text x="196.3" y="438.6" font-size="4.5" fill="#222" text-anchor="middle" font-weight="bold" >HK3-KD</text>
<text x="223.7" y="368.3" font-size="12" fill="#111" text-anchor="start" font-weight="normal" stroke="#111" stroke-width="0.3">G</text>
<text transform="translate(229.2,404) rotate(-90)" x="0" y="1.7" font-size="4.6" fill="#222" text-anchor="middle" font-weight="bold">% Phagocytosis</text>
<line x1="240" y1="375.5" x2="240" y2="431.8" stroke="#333" stroke-width="0.9"/>
<line x1="240" y1="431.7" x2="276.7" y2="431.7" stroke="#333" stroke-width="0.9"/>
<line x1="238.3" y1="375.5" x2="240" y2="375.5" stroke="#333" stroke-width="0.7"/>
<text x="237.7" y="377.1" font-size="4.4" fill="#222" text-anchor="end" font-weight="bold" >10</text>
<line x1="238.3" y1="386.8" x2="240" y2="386.8" stroke="#333" stroke-width="0.7"/>
<text x="237.7" y="388.4" font-size="4.4" fill="#222" text-anchor="end" font-weight="bold" >8</text>
<line x1="238.3" y1="398.1" x2="240" y2="398.1" stroke="#333" stroke-width="0.7"/>
<text x="237.7" y="399.7" font-size="4.4" fill="#222" text-anchor="end" font-weight="bold" >6</text>
<line x1="238.3" y1="409.3" x2="240" y2="409.3" stroke="#333" stroke-width="0.7"/>
<text x="237.7" y="410.9" font-size="4.4" fill="#222" text-anchor="end" font-weight="bold" >4</text>
<line x1="238.3" y1="420.5" x2="240" y2="420.5" stroke="#333" stroke-width="0.7"/>
<text x="237.7" y="422.1" font-size="4.4" fill="#222" text-anchor="end" font-weight="bold" >2</text>
<line x1="238.3" y1="431.7" x2="240" y2="431.7" stroke="#333" stroke-width="0.7"/>
<text x="237.7" y="433.3" font-size="4.4" fill="#222" text-anchor="end" font-weight="bold" >0</text>
<rect x="246.5" y="401.9" width="10.8" height="29.8" fill="#A3473D" />
<line x1="251.9" y1="399.3" x2="251.9" y2="401.9" stroke="#C06050" stroke-width="0.6"/>
<line x1="249.6" y1="399.3" x2="254.2" y2="399.3" stroke="#C06050" stroke-width="0.6"/>
<rect x="262.7" y="383.1" width="10.8" height="48.6" fill="#3E5CA9" />
<line x1="268.1" y1="377.3" x2="268.1" y2="383.1" stroke="#6078C0" stroke-width="0.6"/>
<line x1="265.6" y1="377.3" x2="270.6" y2="377.3" stroke="#6078C0" stroke-width="0.6"/>
<line x1="251.9" y1="374" x2="268.1" y2="374" stroke="#222" stroke-width="1.1"/>
<circle cx="260.5" cy="370.6" r="1.1" fill="#1a1a1a"/>
<line x1="251.9" y1="431.7" x2="251.9" y2="433.2" stroke="#333" stroke-width="0.7"/>
<line x1="268.1" y1="431.7" x2="268.1" y2="433.2" stroke="#333" stroke-width="0.7"/>
<text x="251.9" y="438.6" font-size="4.5" fill="#222" text-anchor="middle" font-weight="bold" >NC</text>
<text x="268.1" y="438.6" font-size="4.5" fill="#222" text-anchor="middle" font-weight="bold" >HK3-KD</text>
<text transform="translate(283.9,402.5) rotate(-90)" x="0" y="1.7" font-size="4.6" fill="#222" text-anchor="middle" font-weight="bold">% Phagocytosis</text>
<line x1="294.5" y1="374.5" x2="294.5" y2="431.2" stroke="#333" stroke-width="0.9"/>
<line x1="294.5" y1="431.1" x2="331.4" y2="431.1" stroke="#333" stroke-width="0.9"/>
<line x1="292.8" y1="374.5" x2="294.5" y2="374.5" stroke="#333" stroke-width="0.7"/>
<text x="292.2" y="376.1" font-size="4.4" fill="#222" text-anchor="end" font-weight="bold" >8</text>
<line x1="292.8" y1="388.6" x2="294.5" y2="388.6" stroke="#333" stroke-width="0.7"/>
<text x="292.2" y="390.2" font-size="4.4" fill="#222" text-anchor="end" font-weight="bold" >6</text>
<line x1="292.8" y1="402.8" x2="294.5" y2="402.8" stroke="#333" stroke-width="0.7"/>
<text x="292.2" y="404.4" font-size="4.4" fill="#222" text-anchor="end" font-weight="bold" >4</text>
<line x1="292.8" y1="417" x2="294.5" y2="417" stroke="#333" stroke-width="0.7"/>
<text x="292.2" y="418.6" font-size="4.4" fill="#222" text-anchor="end" font-weight="bold" >2</text>
<line x1="292.8" y1="431.1" x2="294.5" y2="431.1" stroke="#333" stroke-width="0.7"/>
<text x="292.2" y="432.7" font-size="4.4" fill="#222" text-anchor="end" font-weight="bold" >0</text>
<rect x="299.7" y="405.8" width="10.8" height="25.3" fill="#A3473D" />
<line x1="305.1" y1="404.3" x2="305.1" y2="405.8" stroke="#C06050" stroke-width="0.6"/>
<line x1="302.8" y1="404.3" x2="307.4" y2="404.3" stroke="#C06050" stroke-width="0.6"/>
<rect x="315.9" y="378.8" width="10.5" height="52.3" fill="#3E5CA9" />
<line x1="304.4" y1="374.9" x2="322.1" y2="374.9" stroke="#222" stroke-width="1.1"/>
<circle cx="310.5" cy="371.2" r="1.1" fill="#1a1a1a"/>
<circle cx="313.6" cy="371.2" r="1.1" fill="#1a1a1a"/>
<circle cx="316.8" cy="371.2" r="1.1" fill="#1a1a1a"/>
<line x1="305.1" y1="431.1" x2="305.1" y2="432.6" stroke="#333" stroke-width="0.7"/>
<line x1="321.1" y1="431.1" x2="321.1" y2="432.6" stroke="#333" stroke-width="0.7"/>
<text x="304.6" y="438.4" font-size="4.5" fill="#222" text-anchor="middle" font-weight="bold" >WT</text>
<text x="321" y="438.4" font-size="4.5" fill="#222" text-anchor="middle" font-weight="bold" >KO</text>
</svg>
</body></html>
